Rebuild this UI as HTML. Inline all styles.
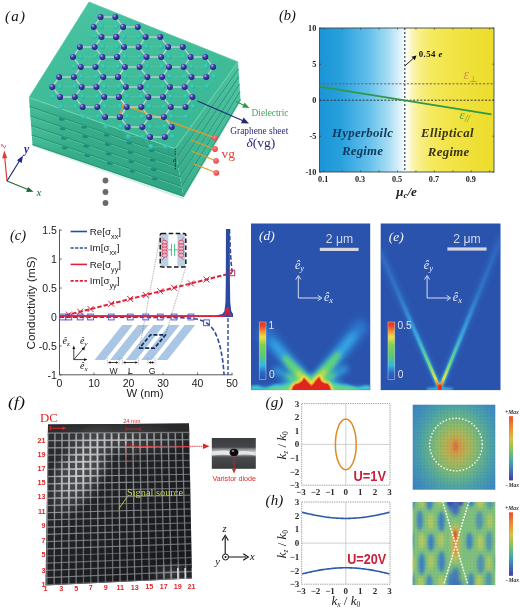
<!DOCTYPE html>
<html><head><meta charset="utf-8"><title>Figure</title>
<style>html,body{margin:0;padding:0;background:#fff;}svg{display:block;}</style></head>
<body><svg width="520" height="610" viewBox="0 0 520 610">
<defs>
<radialGradient id="atB" cx="0.35" cy="0.3" r="0.75"><stop offset="0" stop-color="#b4b4ee"/><stop offset="0.4" stop-color="#4040ae"/><stop offset="1" stop-color="#1c1c72"/></radialGradient>
<radialGradient id="atT" cx="0.4" cy="0.35" r="0.7"><stop offset="0" stop-color="#4cd2be"/><stop offset="1" stop-color="#1fb09c"/></radialGradient>
<radialGradient id="atR" cx="0.4" cy="0.35" r="0.7"><stop offset="0" stop-color="#ff8a80"/><stop offset="1" stop-color="#e23a3a"/></radialGradient>
<linearGradient id="topF" x1="0" y1="0" x2="0.3" y2="1"><stop offset="0" stop-color="#4ac4a2"/><stop offset="1" stop-color="#3ab794"/></linearGradient>
<linearGradient id="lfF" x1="0" y1="0" x2="0" y2="1"><stop offset="0" stop-color="#49be9a"/><stop offset="0.3" stop-color="#37ad8a"/><stop offset="1" stop-color="#2fa383"/></linearGradient>
<linearGradient id="rtF" x1="0" y1="0" x2="0" y2="1"><stop offset="0" stop-color="#4cc2a0"/><stop offset="0.7" stop-color="#41b693"/><stop offset="1" stop-color="#36aa8a"/></linearGradient>

<linearGradient id="bgB" x1="0" y1="0" x2="1" y2="0">
<stop offset="0" stop-color="#1a94d6"/><stop offset="0.12" stop-color="#28a0dc"/><stop offset="0.28" stop-color="#62bfea"/><stop offset="0.40" stop-color="#aadef4"/><stop offset="0.47" stop-color="#e6f5fb"/><stop offset="0.50" stop-color="#fdfdf6"/>
<stop offset="0.53" stop-color="#fbf6b8"/><stop offset="0.57" stop-color="#f8ef8a"/><stop offset="0.64" stop-color="#f5e960"/><stop offset="0.75" stop-color="#f2e446"/><stop offset="1" stop-color="#ecdc2a"/></linearGradient>

<filter id="bl1" x="-20%" y="-20%" width="140%" height="140%"><feGaussianBlur stdDeviation="1"/></filter>
<filter id="bl2" x="-20%" y="-20%" width="140%" height="140%"><feGaussianBlur stdDeviation="2"/></filter>
<filter id="bl3" x="-20%" y="-20%" width="140%" height="140%"><feGaussianBlur stdDeviation="3.2"/></filter>
<filter id="bl5" x="-30%" y="-30%" width="160%" height="160%"><feGaussianBlur stdDeviation="5"/></filter>
<filter id="bl06" x="-20%" y="-20%" width="140%" height="140%"><feGaussianBlur stdDeviation="0.6"/></filter>
<clipPath id="clD"><rect x="251" y="223.5" width="119.2" height="166.6"/></clipPath>
<clipPath id="clE"><rect x="380.7" y="223.5" width="119.8" height="166.6"/></clipPath>
<linearGradient id="jet" x1="0" y1="0" x2="0" y2="1"><stop offset="0" stop-color="#e8301e"/><stop offset="0.08" stop-color="#ee4a22"/><stop offset="0.17" stop-color="#f09a30"/><stop offset="0.26" stop-color="#f0e040"/><stop offset="0.4" stop-color="#80d050"/><stop offset="0.6" stop-color="#58c878"/><stop offset="0.76" stop-color="#30b8e0"/><stop offset="0.88" stop-color="#2a68c8"/><stop offset="1" stop-color="#2a53ad"/></linearGradient>
<linearGradient id="vA" gradientUnits="userSpaceOnUse" x1="0" y1="240" x2="0" y2="390"><stop offset="0" stop-color="#3c96e0" stop-opacity="0.08"/><stop offset="0.35" stop-color="#38a8e8" stop-opacity="0.32"/><stop offset="0.65" stop-color="#3cc4ea" stop-opacity="0.85"/><stop offset="1" stop-color="#50e0e0" stop-opacity="1"/></linearGradient>
<linearGradient id="vB" gradientUnits="userSpaceOnUse" x1="0" y1="338" x2="0" y2="390"><stop offset="0" stop-color="#60d880" stop-opacity="0"/><stop offset="0.5" stop-color="#6edc70" stop-opacity="0.9"/><stop offset="0.8" stop-color="#e8e040" stop-opacity="1"/><stop offset="0.95" stop-color="#f06020" stop-opacity="1"/></linearGradient>

<linearGradient id="pcbG" x1="0" y1="0" x2="1" y2="1"><stop offset="0" stop-color="#2a2c2f"/><stop offset="0.4" stop-color="#222427"/><stop offset="1" stop-color="#1b1c1f"/></linearGradient>
<radialGradient id="glare" cx="0.5" cy="0.5" r="0.5"><stop offset="0" stop-color="#fff" stop-opacity="0.30"/><stop offset="1" stop-color="#fff" stop-opacity="0"/></radialGradient>
<linearGradient id="diodeBg" x1="0" y1="0" x2="0" y2="1"><stop offset="0" stop-color="#3a3c40"/><stop offset="0.30" stop-color="#44464a"/><stop offset="0.36" stop-color="#8a8c90"/><stop offset="0.46" stop-color="#c8cacc"/><stop offset="0.56" stop-color="#8c8e92"/><stop offset="0.62" stop-color="#4a4b4e"/><stop offset="1" stop-color="#3a3a3c"/></linearGradient>
<filter id="fblur"><feGaussianBlur stdDeviation="0.45"/></filter>
<linearGradient id="fshade" x1="0" y1="0" x2="1" y2="1"><stop offset="0" stop-color="#0c0d10" stop-opacity="0"/><stop offset="0.35" stop-color="#0c0d10" stop-opacity="0.05"/><stop offset="0.7" stop-color="#0c0d10" stop-opacity="0.22"/><stop offset="1" stop-color="#0c0d10" stop-opacity="0.3"/></linearGradient>
<radialGradient id="glR1" gradientUnits="userSpaceOnUse" cx="80" cy="470" r="44" gradientTransform="rotate(30 80 470) translate(82 468) scale(0.62 1.25) translate(-82 -468)"><stop offset="0" stop-color="#fff" stop-opacity="1"/><stop offset="0.45" stop-color="#fff" stop-opacity="0.75"/><stop offset="1" stop-color="#fff" stop-opacity="0"/></radialGradient>
<radialGradient id="glR2" gradientUnits="userSpaceOnUse" cx="120" cy="440" r="80" gradientTransform="translate(120 440) scale(1 0.22) translate(-120 -440)"><stop offset="0" stop-color="#fff" stop-opacity="0.7"/><stop offset="1" stop-color="#fff" stop-opacity="0"/></radialGradient>
<radialGradient id="glR3" gradientUnits="userSpaceOnUse" cx="172" cy="574" r="26" gradientTransform="translate(172 574) scale(1 0.5) translate(-172 -574)"><stop offset="0" stop-color="#fff" stop-opacity="0.8"/><stop offset="1" stop-color="#fff" stop-opacity="0"/></radialGradient>
<mask id="glM" maskUnits="userSpaceOnUse" x="40" y="415" width="160" height="180"><rect x="40" y="415" width="160" height="180" fill="#000"/><rect x="40" y="415" width="160" height="180" fill="url(#glR1)"/><rect x="40" y="415" width="160" height="180" fill="url(#glR2)"/><rect x="40" y="415" width="160" height="180" fill="url(#glR3)"/></mask>
<clipPath id="clF"><polygon points="48,424.5 189,423.5 192,578.5 45.5,585.5"/></clipPath>

<linearGradient id="par" x1="0" y1="0" x2="0" y2="1"><stop offset="0" stop-color="#e8502a"/><stop offset="0.18" stop-color="#ee8a3a"/><stop offset="0.36" stop-color="#d8c040"/><stop offset="0.52" stop-color="#8cc060"/><stop offset="0.68" stop-color="#45b0a0"/><stop offset="0.84" stop-color="#3a78c0"/><stop offset="1" stop-color="#4a3a98"/></linearGradient>
<radialGradient id="gIm" gradientUnits="userSpaceOnUse" cx="456" cy="447" r="64" gradientTransform="translate(456 447) scale(0.92 1.08) translate(-456 -447)"><stop offset="0" stop-color="#dc8a3c"/><stop offset="0.08" stop-color="#d29c44"/><stop offset="0.2" stop-color="#b4b452"/><stop offset="0.33" stop-color="#8cba6a"/><stop offset="0.47" stop-color="#64b08c"/><stop offset="0.62" stop-color="#4aa0a8"/><stop offset="0.8" stop-color="#3f8cbc"/><stop offset="1" stop-color="#3a7cc4"/></radialGradient>
<clipPath id="clG"><rect x="412.7" y="404.7" width="82.6" height="85"/></clipPath>
<clipPath id="clH"><rect x="412.7" y="502" width="82.6" height="83"/></clipPath>
<filter id="gb2" x="-30%" y="-30%" width="160%" height="160%"><feGaussianBlur stdDeviation="2.2"/></filter>
<filter id="gb3" x="-30%" y="-30%" width="160%" height="160%"><feGaussianBlur stdDeviation="3.2"/></filter>
<filter id="gb16" x="-30%" y="-30%" width="160%" height="160%"><feGaussianBlur stdDeviation="1.6"/></filter>
<filter id="gb1" x="-30%" y="-30%" width="160%" height="160%"><feGaussianBlur stdDeviation="1.1"/></filter>
<pattern id="dots" width="3.3" height="3.3" patternUnits="userSpaceOnUse" x="412.7" y="404.7"><circle cx="1.6" cy="1.6" r="0.75" fill="#2a7a9a" opacity="0.28"/><circle cx="0" cy="0" r="0.6" fill="#e8f0c0" opacity="0.18"/></pattern>

</defs>
<rect width="520" height="610" fill="#fff"/>
<g id="pa">
<polygon points="31.5,146 183.5,199.8 241.5,101 240.5,100 183.5,196.8 32.5,145" fill="#bfe6da" opacity="0.6"/>
<polygon points="31.8,135.5 181.8,187.2 183.5,196.8 32.5,145" fill="url(#lfF)"/>
<polygon points="181.8,187.2 240,92.4 240.5,100 183.5,196.8" fill="url(#rtF)"/>
<polyline points="31.8,135.5 181.8,187.2 240,92.4" fill="none" stroke="#6fd4b4" stroke-width="1" stroke-linejoin="round"/>
<polyline points="32.5,144.4 183.5,196.2 240.5,99.4" fill="none" stroke="#238e72" stroke-width="1.1" stroke-linejoin="round" opacity="0.75"/>
<ellipse cx="65" cy="147.54" rx="3" ry="1.8" fill="#15807c" opacity="0.8"/>
<ellipse cx="87.5" cy="155.3" rx="3" ry="1.8" fill="#15807c" opacity="0.8"/>
<ellipse cx="110" cy="163.05" rx="3" ry="1.8" fill="#15807c" opacity="0.8"/>
<ellipse cx="132.5" cy="170.81" rx="3" ry="1.8" fill="#15807c" opacity="0.8"/>
<ellipse cx="155" cy="178.56" rx="3" ry="1.8" fill="#15807c" opacity="0.8"/>
<polygon points="31.1,126 180.1,177.6 181.8,187.2 31.8,135.5" fill="url(#lfF)"/>
<polygon points="180.1,177.6 239.5,84.8 240,92.4 181.8,187.2" fill="url(#rtF)"/>
<polyline points="31.1,126 180.1,177.6 239.5,84.8" fill="none" stroke="#6fd4b4" stroke-width="1" stroke-linejoin="round"/>
<polyline points="31.8,134.9 181.8,186.6 240,91.8" fill="none" stroke="#238e72" stroke-width="1.1" stroke-linejoin="round" opacity="0.75"/>
<ellipse cx="64" cy="137.99" rx="3" ry="1.8" fill="#15807c" opacity="0.8"/>
<ellipse cx="86.5" cy="145.79" rx="3" ry="1.8" fill="#15807c" opacity="0.8"/>
<ellipse cx="109" cy="153.58" rx="3" ry="1.8" fill="#15807c" opacity="0.8"/>
<ellipse cx="131.5" cy="161.37" rx="3" ry="1.8" fill="#15807c" opacity="0.8"/>
<ellipse cx="154" cy="169.16" rx="3" ry="1.8" fill="#15807c" opacity="0.8"/>
<polygon points="30.4,116.5 178.4,168 180.1,177.6 31.1,126" fill="url(#lfF)"/>
<polygon points="178.4,168 239,77.2 239.5,84.8 180.1,177.6" fill="url(#rtF)"/>
<polyline points="30.4,116.5 178.4,168 239,77.2" fill="none" stroke="#6fd4b4" stroke-width="1" stroke-linejoin="round"/>
<polyline points="31.1,125.4 180.1,177 239.5,84.2" fill="none" stroke="#238e72" stroke-width="1.1" stroke-linejoin="round" opacity="0.75"/>
<ellipse cx="63" cy="128.44" rx="3" ry="1.8" fill="#15807c" opacity="0.8"/>
<ellipse cx="85.5" cy="136.27" rx="3" ry="1.8" fill="#15807c" opacity="0.8"/>
<ellipse cx="108" cy="144.1" rx="3" ry="1.8" fill="#15807c" opacity="0.8"/>
<ellipse cx="130.5" cy="151.93" rx="3" ry="1.8" fill="#15807c" opacity="0.8"/>
<ellipse cx="153" cy="159.76" rx="3" ry="1.8" fill="#15807c" opacity="0.8"/>
<polygon points="29.7,107 176.7,158.4 178.4,168 30.4,116.5" fill="url(#lfF)"/>
<polygon points="176.7,158.4 238.5,69.6 239,77.2 178.4,168" fill="url(#rtF)"/>
<polyline points="29.7,107 176.7,158.4 238.5,69.6" fill="none" stroke="#6fd4b4" stroke-width="1" stroke-linejoin="round"/>
<polyline points="30.4,115.9 178.4,167.4 239,76.6" fill="none" stroke="#238e72" stroke-width="1.1" stroke-linejoin="round" opacity="0.75"/>
<ellipse cx="62" cy="118.89" rx="3" ry="1.8" fill="#15807c" opacity="0.8"/>
<ellipse cx="84.5" cy="126.76" rx="3" ry="1.8" fill="#15807c" opacity="0.8"/>
<ellipse cx="107" cy="134.63" rx="3" ry="1.8" fill="#15807c" opacity="0.8"/>
<ellipse cx="129.5" cy="142.5" rx="3" ry="1.8" fill="#15807c" opacity="0.8"/>
<ellipse cx="152" cy="150.36" rx="3" ry="1.8" fill="#15807c" opacity="0.8"/>
<polygon points="89,2 238,62 175,148.8 29,97.5" fill="url(#topF)" stroke="#52c8a8" stroke-width="0.8" stroke-linejoin="round"/>
<polygon points="29,97.5 175,148.8 176.7,158.4 29.7,107" fill="url(#lfF)"/>
<polygon points="175,148.8 238,62 238.5,69.6 176.7,158.4" fill="url(#rtF)"/>
<polyline points="29,97.5 175,148.8 238,62" fill="none" stroke="#6fd4b4" stroke-width="1" stroke-linejoin="round"/>
<polyline points="29.7,106.4 176.7,157.8 238.5,69" fill="none" stroke="#238e72" stroke-width="1.1" stroke-linejoin="round" opacity="0.75"/>
<line x1="168.9" y1="56.6" x2="183.6" y2="56.6" stroke="#5cd0b4" stroke-width="0.9" opacity="0.4"/>
<line x1="73.8" y1="66.6" x2="81.6" y2="76.6" stroke="#5cd0b4" stroke-width="0.9" opacity="0.4"/>
<line x1="118.8" y1="86.6" x2="126.6" y2="96.6" stroke="#5cd0b4" stroke-width="0.9" opacity="0.4"/>
<line x1="96.3" y1="76.6" x2="104.1" y2="86.6" stroke="#5cd0b4" stroke-width="0.9" opacity="0.4"/>
<line x1="102.3" y1="46.6" x2="117" y2="46.6" stroke="#5cd0b4" stroke-width="0.9" opacity="0.4"/>
<line x1="185.4" y1="96.6" x2="192.3" y2="86.6" stroke="#5cd0b4" stroke-width="0.9" opacity="0.4"/>
<line x1="82.5" y1="96.6" x2="97.2" y2="96.6" stroke="#5cd0b4" stroke-width="0.9" opacity="0.4"/>
<line x1="120.6" y1="126.6" x2="127.5" y2="116.6" stroke="#5cd0b4" stroke-width="0.9" opacity="0.4"/>
<line x1="120.6" y1="126.6" x2="128.4" y2="136.6" stroke="#5cd0b4" stroke-width="0.9" opacity="0.4"/>
<line x1="139.5" y1="56.6" x2="146.4" y2="46.6" stroke="#5cd0b4" stroke-width="0.9" opacity="0.4"/>
<line x1="123.9" y1="36.6" x2="138.6" y2="36.6" stroke="#5cd0b4" stroke-width="0.9" opacity="0.4"/>
<line x1="165.6" y1="146.6" x2="172.5" y2="136.6" stroke="#5cd0b4" stroke-width="0.9" opacity="0.4"/>
<line x1="143.1" y1="136.6" x2="150.9" y2="146.6" stroke="#5cd0b4" stroke-width="0.9" opacity="0.4"/>
<line x1="101.4" y1="26.6" x2="116.1" y2="26.6" stroke="#5cd0b4" stroke-width="0.9" opacity="0.4"/>
<line x1="119.7" y1="106.6" x2="127.5" y2="116.6" stroke="#5cd0b4" stroke-width="0.9" opacity="0.4"/>
<line x1="83.4" y1="116.6" x2="98.1" y2="116.6" stroke="#5cd0b4" stroke-width="0.9" opacity="0.4"/>
<line x1="74.7" y1="86.6" x2="81.6" y2="76.6" stroke="#5cd0b4" stroke-width="0.9" opacity="0.4"/>
<line x1="105.9" y1="126.6" x2="120.6" y2="126.6" stroke="#5cd0b4" stroke-width="0.9" opacity="0.4"/>
<line x1="169.8" y1="76.6" x2="184.5" y2="76.6" stroke="#5cd0b4" stroke-width="0.9" opacity="0.4"/>
<line x1="74.7" y1="86.6" x2="82.5" y2="96.6" stroke="#5cd0b4" stroke-width="0.9" opacity="0.4"/>
<line x1="117" y1="46.6" x2="123.9" y2="36.6" stroke="#5cd0b4" stroke-width="0.9" opacity="0.4"/>
<line x1="142.2" y1="116.6" x2="149.1" y2="106.6" stroke="#5cd0b4" stroke-width="0.9" opacity="0.4"/>
<line x1="207" y1="86.6" x2="213.9" y2="76.6" stroke="#5cd0b4" stroke-width="0.9" opacity="0.4"/>
<line x1="142.2" y1="116.6" x2="150" y2="126.6" stroke="#5cd0b4" stroke-width="0.9" opacity="0.4"/>
<line x1="119.7" y1="106.6" x2="127.5" y2="116.6" stroke="#5cd0b4" stroke-width="0.9" opacity="0.4"/>
<line x1="192.3" y1="86.6" x2="207" y2="86.6" stroke="#5cd0b4" stroke-width="0.9" opacity="0.4"/>
<line x1="146.4" y1="46.6" x2="161.1" y2="46.6" stroke="#5cd0b4" stroke-width="0.9" opacity="0.4"/>
<line x1="73.8" y1="66.6" x2="80.7" y2="56.6" stroke="#5cd0b4" stroke-width="0.9" opacity="0.4"/>
<line x1="116.1" y1="26.6" x2="123.9" y2="36.6" stroke="#5cd0b4" stroke-width="0.9" opacity="0.4"/>
<line x1="183.6" y1="56.6" x2="191.4" y2="66.6" stroke="#5cd0b4" stroke-width="0.9" opacity="0.4"/>
<line x1="120.6" y1="126.6" x2="127.5" y2="116.6" stroke="#5cd0b4" stroke-width="0.9" opacity="0.4"/>
<line x1="53.1" y1="96.6" x2="60.9" y2="106.6" stroke="#5cd0b4" stroke-width="0.9" opacity="0.4"/>
<line x1="206.1" y1="66.6" x2="213.9" y2="76.6" stroke="#5cd0b4" stroke-width="0.9" opacity="0.4"/>
<line x1="139.5" y1="56.6" x2="147.3" y2="66.6" stroke="#5cd0b4" stroke-width="0.9" opacity="0.4"/>
<line x1="96.3" y1="76.6" x2="103.2" y2="66.6" stroke="#5cd0b4" stroke-width="0.9" opacity="0.4"/>
<line x1="125.7" y1="76.6" x2="140.4" y2="76.6" stroke="#5cd0b4" stroke-width="0.9" opacity="0.4"/>
<line x1="161.1" y1="46.6" x2="168.9" y2="56.6" stroke="#5cd0b4" stroke-width="0.9" opacity="0.4"/>
<line x1="97.2" y1="96.6" x2="104.1" y2="86.6" stroke="#5cd0b4" stroke-width="0.9" opacity="0.4"/>
<line x1="126.6" y1="96.6" x2="141.3" y2="96.6" stroke="#5cd0b4" stroke-width="0.9" opacity="0.4"/>
<line x1="117" y1="46.6" x2="124.8" y2="56.6" stroke="#5cd0b4" stroke-width="0.9" opacity="0.4"/>
<line x1="94.5" y1="36.6" x2="102.3" y2="46.6" stroke="#5cd0b4" stroke-width="0.9" opacity="0.4"/>
<line x1="97.2" y1="96.6" x2="105" y2="106.6" stroke="#5cd0b4" stroke-width="0.9" opacity="0.4"/>
<line x1="143.1" y1="136.6" x2="150" y2="126.6" stroke="#5cd0b4" stroke-width="0.9" opacity="0.4"/>
<line x1="103.2" y1="66.6" x2="117.9" y2="66.6" stroke="#5cd0b4" stroke-width="0.9" opacity="0.4"/>
<line x1="170.7" y1="96.6" x2="185.4" y2="96.6" stroke="#5cd0b4" stroke-width="0.9" opacity="0.4"/>
<line x1="119.7" y1="106.6" x2="126.6" y2="96.6" stroke="#5cd0b4" stroke-width="0.9" opacity="0.4"/>
<line x1="149.1" y1="106.6" x2="163.8" y2="106.6" stroke="#5cd0b4" stroke-width="0.9" opacity="0.4"/>
<line x1="105" y1="106.6" x2="119.7" y2="106.6" stroke="#5cd0b4" stroke-width="0.9" opacity="0.4"/>
<line x1="117" y1="46.6" x2="124.8" y2="56.6" stroke="#5cd0b4" stroke-width="0.9" opacity="0.4"/>
<line x1="95.4" y1="56.6" x2="102.3" y2="46.6" stroke="#5cd0b4" stroke-width="0.9" opacity="0.4"/>
<line x1="186.3" y1="116.6" x2="193.2" y2="106.6" stroke="#5cd0b4" stroke-width="0.9" opacity="0.4"/>
<line x1="124.8" y1="56.6" x2="139.5" y2="56.6" stroke="#5cd0b4" stroke-width="0.9" opacity="0.4"/>
<line x1="117.9" y1="66.6" x2="125.7" y2="76.6" stroke="#5cd0b4" stroke-width="0.9" opacity="0.4"/>
<line x1="119.7" y1="106.6" x2="126.6" y2="96.6" stroke="#5cd0b4" stroke-width="0.9" opacity="0.4"/>
<line x1="60" y1="86.6" x2="74.7" y2="86.6" stroke="#5cd0b4" stroke-width="0.9" opacity="0.4"/>
<line x1="162.9" y1="86.6" x2="170.7" y2="96.6" stroke="#5cd0b4" stroke-width="0.9" opacity="0.4"/>
<line x1="80.7" y1="56.6" x2="95.4" y2="56.6" stroke="#5cd0b4" stroke-width="0.9" opacity="0.4"/>
<line x1="53.1" y1="96.6" x2="60" y2="86.6" stroke="#5cd0b4" stroke-width="0.9" opacity="0.4"/>
<line x1="164.7" y1="126.6" x2="171.6" y2="116.6" stroke="#5cd0b4" stroke-width="0.9" opacity="0.4"/>
<line x1="98.1" y1="116.6" x2="105" y2="106.6" stroke="#5cd0b4" stroke-width="0.9" opacity="0.4"/>
<line x1="150.9" y1="146.6" x2="165.6" y2="146.6" stroke="#5cd0b4" stroke-width="0.9" opacity="0.4"/>
<line x1="75.6" y1="106.6" x2="82.5" y2="96.6" stroke="#5cd0b4" stroke-width="0.9" opacity="0.4"/>
<line x1="117.9" y1="66.6" x2="125.7" y2="76.6" stroke="#5cd0b4" stroke-width="0.9" opacity="0.4"/>
<line x1="163.8" y1="106.6" x2="171.6" y2="116.6" stroke="#5cd0b4" stroke-width="0.9" opacity="0.4"/>
<line x1="118.8" y1="86.6" x2="125.7" y2="76.6" stroke="#5cd0b4" stroke-width="0.9" opacity="0.4"/>
<line x1="94.5" y1="36.6" x2="101.4" y2="26.6" stroke="#5cd0b4" stroke-width="0.9" opacity="0.4"/>
<line x1="150" y1="126.6" x2="164.7" y2="126.6" stroke="#5cd0b4" stroke-width="0.9" opacity="0.4"/>
<line x1="162" y1="66.6" x2="169.8" y2="76.6" stroke="#5cd0b4" stroke-width="0.9" opacity="0.4"/>
<line x1="118.8" y1="86.6" x2="125.7" y2="76.6" stroke="#5cd0b4" stroke-width="0.9" opacity="0.4"/>
<line x1="148.2" y1="86.6" x2="162.9" y2="86.6" stroke="#5cd0b4" stroke-width="0.9" opacity="0.4"/>
<line x1="127.5" y1="116.6" x2="142.2" y2="116.6" stroke="#5cd0b4" stroke-width="0.9" opacity="0.4"/>
<line x1="98.1" y1="116.6" x2="105.9" y2="126.6" stroke="#5cd0b4" stroke-width="0.9" opacity="0.4"/>
<line x1="141.3" y1="96.6" x2="148.2" y2="86.6" stroke="#5cd0b4" stroke-width="0.9" opacity="0.4"/>
<line x1="104.1" y1="86.6" x2="118.8" y2="86.6" stroke="#5cd0b4" stroke-width="0.9" opacity="0.4"/>
<line x1="75.6" y1="106.6" x2="83.4" y2="116.6" stroke="#5cd0b4" stroke-width="0.9" opacity="0.4"/>
<line x1="117.9" y1="66.6" x2="124.8" y2="56.6" stroke="#5cd0b4" stroke-width="0.9" opacity="0.4"/>
<line x1="147.3" y1="66.6" x2="162" y2="66.6" stroke="#5cd0b4" stroke-width="0.9" opacity="0.4"/>
<line x1="184.5" y1="76.6" x2="191.4" y2="66.6" stroke="#5cd0b4" stroke-width="0.9" opacity="0.4"/>
<line x1="140.4" y1="76.6" x2="147.3" y2="66.6" stroke="#5cd0b4" stroke-width="0.9" opacity="0.4"/>
<line x1="81.6" y1="76.6" x2="96.3" y2="76.6" stroke="#5cd0b4" stroke-width="0.9" opacity="0.4"/>
<line x1="140.4" y1="76.6" x2="148.2" y2="86.6" stroke="#5cd0b4" stroke-width="0.9" opacity="0.4"/>
<line x1="171.6" y1="116.6" x2="186.3" y2="116.6" stroke="#5cd0b4" stroke-width="0.9" opacity="0.4"/>
<line x1="117.9" y1="66.6" x2="124.8" y2="56.6" stroke="#5cd0b4" stroke-width="0.9" opacity="0.4"/>
<line x1="162.9" y1="86.6" x2="169.8" y2="76.6" stroke="#5cd0b4" stroke-width="0.9" opacity="0.4"/>
<line x1="163.8" y1="106.6" x2="170.7" y2="96.6" stroke="#5cd0b4" stroke-width="0.9" opacity="0.4"/>
<line x1="185.4" y1="96.6" x2="193.2" y2="106.6" stroke="#5cd0b4" stroke-width="0.9" opacity="0.4"/>
<line x1="95.4" y1="56.6" x2="103.2" y2="66.6" stroke="#5cd0b4" stroke-width="0.9" opacity="0.4"/>
<line x1="118.8" y1="86.6" x2="126.6" y2="96.6" stroke="#5cd0b4" stroke-width="0.9" opacity="0.4"/>
<line x1="141.3" y1="96.6" x2="149.1" y2="106.6" stroke="#5cd0b4" stroke-width="0.9" opacity="0.4"/>
<line x1="191.4" y1="66.6" x2="206.1" y2="66.6" stroke="#5cd0b4" stroke-width="0.9" opacity="0.4"/>
<line x1="162" y1="66.6" x2="168.9" y2="56.6" stroke="#5cd0b4" stroke-width="0.9" opacity="0.4"/>
<line x1="184.5" y1="76.6" x2="192.3" y2="86.6" stroke="#5cd0b4" stroke-width="0.9" opacity="0.4"/>
<line x1="128.4" y1="136.6" x2="143.1" y2="136.6" stroke="#5cd0b4" stroke-width="0.9" opacity="0.4"/>
<line x1="138.6" y1="36.6" x2="146.4" y2="46.6" stroke="#5cd0b4" stroke-width="0.9" opacity="0.4"/>
<line x1="164.7" y1="126.6" x2="172.5" y2="136.6" stroke="#5cd0b4" stroke-width="0.9" opacity="0.4"/>
<line x1="117" y1="46.6" x2="123.9" y2="36.6" stroke="#5cd0b4" stroke-width="0.9" opacity="0.4"/>
<line x1="60.9" y1="106.6" x2="75.6" y2="106.6" stroke="#5cd0b4" stroke-width="0.9" opacity="0.4"/>
<circle cx="101.4" cy="26.6" r="2.6" fill="url(#atT)" opacity="0.9"/>
<circle cx="116.1" cy="26.6" r="2.6" fill="url(#atT)" opacity="0.9"/>
<circle cx="123.9" cy="36.6" r="2.6" fill="url(#atT)" opacity="0.9"/>
<circle cx="94.5" cy="36.6" r="2.6" fill="url(#atT)" opacity="0.9"/>
<circle cx="138.6" cy="36.6" r="2.6" fill="url(#atT)" opacity="0.9"/>
<circle cx="117" cy="46.6" r="2.6" fill="url(#atT)" opacity="0.9"/>
<circle cx="102.3" cy="46.6" r="2.6" fill="url(#atT)" opacity="0.9"/>
<circle cx="146.4" cy="46.6" r="2.6" fill="url(#atT)" opacity="0.9"/>
<circle cx="117" cy="46.6" r="2.6" fill="url(#atT)" opacity="0.9"/>
<circle cx="161.1" cy="46.6" r="2.6" fill="url(#atT)" opacity="0.9"/>
<circle cx="139.5" cy="56.6" r="2.6" fill="url(#atT)" opacity="0.9"/>
<circle cx="124.8" cy="56.6" r="2.6" fill="url(#atT)" opacity="0.9"/>
<circle cx="168.9" cy="56.6" r="2.6" fill="url(#atT)" opacity="0.9"/>
<circle cx="183.6" cy="56.6" r="2.6" fill="url(#atT)" opacity="0.9"/>
<circle cx="95.4" cy="56.6" r="2.6" fill="url(#atT)" opacity="0.9"/>
<circle cx="80.7" cy="56.6" r="2.6" fill="url(#atT)" opacity="0.9"/>
<circle cx="162" cy="66.6" r="2.6" fill="url(#atT)" opacity="0.9"/>
<circle cx="147.3" cy="66.6" r="2.6" fill="url(#atT)" opacity="0.9"/>
<circle cx="191.4" cy="66.6" r="2.6" fill="url(#atT)" opacity="0.9"/>
<circle cx="206.1" cy="66.6" r="2.6" fill="url(#atT)" opacity="0.9"/>
<circle cx="117.9" cy="66.6" r="2.6" fill="url(#atT)" opacity="0.9"/>
<circle cx="103.2" cy="66.6" r="2.6" fill="url(#atT)" opacity="0.9"/>
<circle cx="117.9" cy="66.6" r="2.6" fill="url(#atT)" opacity="0.9"/>
<circle cx="73.8" cy="66.6" r="2.6" fill="url(#atT)" opacity="0.9"/>
<circle cx="184.5" cy="76.6" r="2.6" fill="url(#atT)" opacity="0.9"/>
<circle cx="169.8" cy="76.6" r="2.6" fill="url(#atT)" opacity="0.9"/>
<circle cx="213.9" cy="76.6" r="2.6" fill="url(#atT)" opacity="0.9"/>
<circle cx="140.4" cy="76.6" r="2.6" fill="url(#atT)" opacity="0.9"/>
<circle cx="125.7" cy="76.6" r="2.6" fill="url(#atT)" opacity="0.9"/>
<circle cx="96.3" cy="76.6" r="2.6" fill="url(#atT)" opacity="0.9"/>
<circle cx="81.6" cy="76.6" r="2.6" fill="url(#atT)" opacity="0.9"/>
<circle cx="207" cy="86.6" r="2.6" fill="url(#atT)" opacity="0.9"/>
<circle cx="192.3" cy="86.6" r="2.6" fill="url(#atT)" opacity="0.9"/>
<circle cx="162.9" cy="86.6" r="2.6" fill="url(#atT)" opacity="0.9"/>
<circle cx="148.2" cy="86.6" r="2.6" fill="url(#atT)" opacity="0.9"/>
<circle cx="118.8" cy="86.6" r="2.6" fill="url(#atT)" opacity="0.9"/>
<circle cx="104.1" cy="86.6" r="2.6" fill="url(#atT)" opacity="0.9"/>
<circle cx="118.8" cy="86.6" r="2.6" fill="url(#atT)" opacity="0.9"/>
<circle cx="74.7" cy="86.6" r="2.6" fill="url(#atT)" opacity="0.9"/>
<circle cx="60" cy="86.6" r="2.6" fill="url(#atT)" opacity="0.9"/>
<circle cx="185.4" cy="96.6" r="2.6" fill="url(#atT)" opacity="0.9"/>
<circle cx="170.7" cy="96.6" r="2.6" fill="url(#atT)" opacity="0.9"/>
<circle cx="141.3" cy="96.6" r="2.6" fill="url(#atT)" opacity="0.9"/>
<circle cx="126.6" cy="96.6" r="2.6" fill="url(#atT)" opacity="0.9"/>
<circle cx="97.2" cy="96.6" r="2.6" fill="url(#atT)" opacity="0.9"/>
<circle cx="82.5" cy="96.6" r="2.6" fill="url(#atT)" opacity="0.9"/>
<circle cx="53.1" cy="96.6" r="2.6" fill="url(#atT)" opacity="0.9"/>
<circle cx="163.8" cy="106.6" r="2.6" fill="url(#atT)" opacity="0.9"/>
<circle cx="149.1" cy="106.6" r="2.6" fill="url(#atT)" opacity="0.9"/>
<circle cx="193.2" cy="106.6" r="2.6" fill="url(#atT)" opacity="0.9"/>
<circle cx="119.7" cy="106.6" r="2.6" fill="url(#atT)" opacity="0.9"/>
<circle cx="105" cy="106.6" r="2.6" fill="url(#atT)" opacity="0.9"/>
<circle cx="119.7" cy="106.6" r="2.6" fill="url(#atT)" opacity="0.9"/>
<circle cx="75.6" cy="106.6" r="2.6" fill="url(#atT)" opacity="0.9"/>
<circle cx="60.9" cy="106.6" r="2.6" fill="url(#atT)" opacity="0.9"/>
<circle cx="186.3" cy="116.6" r="2.6" fill="url(#atT)" opacity="0.9"/>
<circle cx="171.6" cy="116.6" r="2.6" fill="url(#atT)" opacity="0.9"/>
<circle cx="142.2" cy="116.6" r="2.6" fill="url(#atT)" opacity="0.9"/>
<circle cx="127.5" cy="116.6" r="2.6" fill="url(#atT)" opacity="0.9"/>
<circle cx="98.1" cy="116.6" r="2.6" fill="url(#atT)" opacity="0.9"/>
<circle cx="83.4" cy="116.6" r="2.6" fill="url(#atT)" opacity="0.9"/>
<circle cx="164.7" cy="126.6" r="2.6" fill="url(#atT)" opacity="0.9"/>
<circle cx="150" cy="126.6" r="2.6" fill="url(#atT)" opacity="0.9"/>
<circle cx="120.6" cy="126.6" r="2.6" fill="url(#atT)" opacity="0.9"/>
<circle cx="105.9" cy="126.6" r="2.6" fill="url(#atT)" opacity="0.9"/>
<circle cx="120.6" cy="126.6" r="2.6" fill="url(#atT)" opacity="0.9"/>
<circle cx="143.1" cy="136.6" r="2.6" fill="url(#atT)" opacity="0.9"/>
<circle cx="128.4" cy="136.6" r="2.6" fill="url(#atT)" opacity="0.9"/>
<circle cx="172.5" cy="136.6" r="2.6" fill="url(#atT)" opacity="0.9"/>
<circle cx="165.6" cy="146.6" r="2.6" fill="url(#atT)" opacity="0.9"/>
<circle cx="150.9" cy="146.6" r="2.6" fill="url(#atT)" opacity="0.9"/>
<path d="M120 114 L123 104.6 L214.5 137.6" fill="none" stroke="#e89a2a" stroke-width="1.2"/>
<line x1="191" y1="140" x2="214" y2="149" stroke="#e89a2a" stroke-width="1.2"/>
<line x1="191.5" y1="151" x2="215" y2="160.5" stroke="#e89a2a" stroke-width="1.2"/>
<line x1="194" y1="164" x2="215.5" y2="172.5" stroke="#e89a2a" stroke-width="1.2"/>
<line x1="168.1" y1="47" x2="182.8" y2="47" stroke="#d0d4dc" stroke-width="1.2"/>
<line x1="73" y1="57" x2="80.8" y2="67" stroke="#d0d4dc" stroke-width="1.2"/>
<line x1="118" y1="77" x2="125.8" y2="87" stroke="#d0d4dc" stroke-width="1.2"/>
<line x1="95.5" y1="67" x2="103.3" y2="77" stroke="#d0d4dc" stroke-width="1.2"/>
<line x1="101.5" y1="37" x2="116.2" y2="37" stroke="#d0d4dc" stroke-width="1.2"/>
<line x1="184.6" y1="87" x2="191.5" y2="77" stroke="#d0d4dc" stroke-width="1.2"/>
<line x1="81.7" y1="87" x2="96.4" y2="87" stroke="#d0d4dc" stroke-width="1.2"/>
<line x1="119.8" y1="117" x2="126.7" y2="107" stroke="#d0d4dc" stroke-width="1.2"/>
<line x1="119.8" y1="117" x2="127.6" y2="127" stroke="#d0d4dc" stroke-width="1.2"/>
<line x1="138.7" y1="47" x2="145.6" y2="37" stroke="#d0d4dc" stroke-width="1.2"/>
<line x1="123.1" y1="27" x2="137.8" y2="27" stroke="#d0d4dc" stroke-width="1.2"/>
<line x1="164.8" y1="137" x2="171.7" y2="127" stroke="#d0d4dc" stroke-width="1.2"/>
<line x1="142.3" y1="127" x2="150.1" y2="137" stroke="#d0d4dc" stroke-width="1.2"/>
<line x1="100.6" y1="17" x2="115.3" y2="17" stroke="#d0d4dc" stroke-width="1.2"/>
<line x1="118.9" y1="97" x2="126.7" y2="107" stroke="#d0d4dc" stroke-width="1.2"/>
<line x1="82.6" y1="107" x2="97.3" y2="107" stroke="#d0d4dc" stroke-width="1.2"/>
<line x1="73.9" y1="77" x2="80.8" y2="67" stroke="#d0d4dc" stroke-width="1.2"/>
<line x1="105.1" y1="117" x2="119.8" y2="117" stroke="#d0d4dc" stroke-width="1.2"/>
<line x1="169" y1="67" x2="183.7" y2="67" stroke="#d0d4dc" stroke-width="1.2"/>
<line x1="73.9" y1="77" x2="81.7" y2="87" stroke="#d0d4dc" stroke-width="1.2"/>
<line x1="116.2" y1="37" x2="123.1" y2="27" stroke="#d0d4dc" stroke-width="1.2"/>
<line x1="141.4" y1="107" x2="148.3" y2="97" stroke="#d0d4dc" stroke-width="1.2"/>
<line x1="206.2" y1="77" x2="213.1" y2="67" stroke="#d0d4dc" stroke-width="1.2"/>
<line x1="141.4" y1="107" x2="149.2" y2="117" stroke="#d0d4dc" stroke-width="1.2"/>
<line x1="118.9" y1="97" x2="126.7" y2="107" stroke="#d0d4dc" stroke-width="1.2"/>
<line x1="191.5" y1="77" x2="206.2" y2="77" stroke="#d0d4dc" stroke-width="1.2"/>
<line x1="145.6" y1="37" x2="160.3" y2="37" stroke="#d0d4dc" stroke-width="1.2"/>
<line x1="73" y1="57" x2="79.9" y2="47" stroke="#d0d4dc" stroke-width="1.2"/>
<line x1="115.3" y1="17" x2="123.1" y2="27" stroke="#d0d4dc" stroke-width="1.2"/>
<line x1="182.8" y1="47" x2="190.6" y2="57" stroke="#d0d4dc" stroke-width="1.2"/>
<line x1="119.8" y1="117" x2="126.7" y2="107" stroke="#d0d4dc" stroke-width="1.2"/>
<line x1="52.3" y1="87" x2="60.1" y2="97" stroke="#d0d4dc" stroke-width="1.2"/>
<line x1="205.3" y1="57" x2="213.1" y2="67" stroke="#d0d4dc" stroke-width="1.2"/>
<line x1="138.7" y1="47" x2="146.5" y2="57" stroke="#d0d4dc" stroke-width="1.2"/>
<line x1="95.5" y1="67" x2="102.4" y2="57" stroke="#d0d4dc" stroke-width="1.2"/>
<line x1="124.9" y1="67" x2="139.6" y2="67" stroke="#d0d4dc" stroke-width="1.2"/>
<line x1="160.3" y1="37" x2="168.1" y2="47" stroke="#d0d4dc" stroke-width="1.2"/>
<line x1="96.4" y1="87" x2="103.3" y2="77" stroke="#d0d4dc" stroke-width="1.2"/>
<line x1="125.8" y1="87" x2="140.5" y2="87" stroke="#d0d4dc" stroke-width="1.2"/>
<line x1="116.2" y1="37" x2="124" y2="47" stroke="#d0d4dc" stroke-width="1.2"/>
<line x1="93.7" y1="27" x2="101.5" y2="37" stroke="#d0d4dc" stroke-width="1.2"/>
<line x1="96.4" y1="87" x2="104.2" y2="97" stroke="#d0d4dc" stroke-width="1.2"/>
<line x1="142.3" y1="127" x2="149.2" y2="117" stroke="#d0d4dc" stroke-width="1.2"/>
<line x1="102.4" y1="57" x2="117.1" y2="57" stroke="#d0d4dc" stroke-width="1.2"/>
<line x1="169.9" y1="87" x2="184.6" y2="87" stroke="#d0d4dc" stroke-width="1.2"/>
<line x1="118.9" y1="97" x2="125.8" y2="87" stroke="#d0d4dc" stroke-width="1.2"/>
<line x1="148.3" y1="97" x2="163" y2="97" stroke="#d0d4dc" stroke-width="1.2"/>
<line x1="104.2" y1="97" x2="118.9" y2="97" stroke="#d0d4dc" stroke-width="1.2"/>
<line x1="116.2" y1="37" x2="124" y2="47" stroke="#d0d4dc" stroke-width="1.2"/>
<line x1="94.6" y1="47" x2="101.5" y2="37" stroke="#d0d4dc" stroke-width="1.2"/>
<line x1="185.5" y1="107" x2="192.4" y2="97" stroke="#d0d4dc" stroke-width="1.2"/>
<line x1="124" y1="47" x2="138.7" y2="47" stroke="#d0d4dc" stroke-width="1.2"/>
<line x1="117.1" y1="57" x2="124.9" y2="67" stroke="#d0d4dc" stroke-width="1.2"/>
<line x1="118.9" y1="97" x2="125.8" y2="87" stroke="#d0d4dc" stroke-width="1.2"/>
<line x1="59.2" y1="77" x2="73.9" y2="77" stroke="#d0d4dc" stroke-width="1.2"/>
<line x1="162.1" y1="77" x2="169.9" y2="87" stroke="#d0d4dc" stroke-width="1.2"/>
<line x1="79.9" y1="47" x2="94.6" y2="47" stroke="#d0d4dc" stroke-width="1.2"/>
<line x1="52.3" y1="87" x2="59.2" y2="77" stroke="#d0d4dc" stroke-width="1.2"/>
<line x1="163.9" y1="117" x2="170.8" y2="107" stroke="#d0d4dc" stroke-width="1.2"/>
<line x1="97.3" y1="107" x2="104.2" y2="97" stroke="#d0d4dc" stroke-width="1.2"/>
<line x1="150.1" y1="137" x2="164.8" y2="137" stroke="#d0d4dc" stroke-width="1.2"/>
<line x1="74.8" y1="97" x2="81.7" y2="87" stroke="#d0d4dc" stroke-width="1.2"/>
<line x1="117.1" y1="57" x2="124.9" y2="67" stroke="#d0d4dc" stroke-width="1.2"/>
<line x1="163" y1="97" x2="170.8" y2="107" stroke="#d0d4dc" stroke-width="1.2"/>
<line x1="118" y1="77" x2="124.9" y2="67" stroke="#d0d4dc" stroke-width="1.2"/>
<line x1="93.7" y1="27" x2="100.6" y2="17" stroke="#d0d4dc" stroke-width="1.2"/>
<line x1="149.2" y1="117" x2="163.9" y2="117" stroke="#d0d4dc" stroke-width="1.2"/>
<line x1="161.2" y1="57" x2="169" y2="67" stroke="#d0d4dc" stroke-width="1.2"/>
<line x1="118" y1="77" x2="124.9" y2="67" stroke="#d0d4dc" stroke-width="1.2"/>
<line x1="147.4" y1="77" x2="162.1" y2="77" stroke="#d0d4dc" stroke-width="1.2"/>
<line x1="126.7" y1="107" x2="141.4" y2="107" stroke="#d0d4dc" stroke-width="1.2"/>
<line x1="97.3" y1="107" x2="105.1" y2="117" stroke="#d0d4dc" stroke-width="1.2"/>
<line x1="140.5" y1="87" x2="147.4" y2="77" stroke="#d0d4dc" stroke-width="1.2"/>
<line x1="103.3" y1="77" x2="118" y2="77" stroke="#d0d4dc" stroke-width="1.2"/>
<line x1="74.8" y1="97" x2="82.6" y2="107" stroke="#d0d4dc" stroke-width="1.2"/>
<line x1="117.1" y1="57" x2="124" y2="47" stroke="#d0d4dc" stroke-width="1.2"/>
<line x1="146.5" y1="57" x2="161.2" y2="57" stroke="#d0d4dc" stroke-width="1.2"/>
<line x1="183.7" y1="67" x2="190.6" y2="57" stroke="#d0d4dc" stroke-width="1.2"/>
<line x1="139.6" y1="67" x2="146.5" y2="57" stroke="#d0d4dc" stroke-width="1.2"/>
<line x1="80.8" y1="67" x2="95.5" y2="67" stroke="#d0d4dc" stroke-width="1.2"/>
<line x1="139.6" y1="67" x2="147.4" y2="77" stroke="#d0d4dc" stroke-width="1.2"/>
<line x1="170.8" y1="107" x2="185.5" y2="107" stroke="#d0d4dc" stroke-width="1.2"/>
<line x1="117.1" y1="57" x2="124" y2="47" stroke="#d0d4dc" stroke-width="1.2"/>
<line x1="162.1" y1="77" x2="169" y2="67" stroke="#d0d4dc" stroke-width="1.2"/>
<line x1="163" y1="97" x2="169.9" y2="87" stroke="#d0d4dc" stroke-width="1.2"/>
<line x1="184.6" y1="87" x2="192.4" y2="97" stroke="#d0d4dc" stroke-width="1.2"/>
<line x1="94.6" y1="47" x2="102.4" y2="57" stroke="#d0d4dc" stroke-width="1.2"/>
<line x1="118" y1="77" x2="125.8" y2="87" stroke="#d0d4dc" stroke-width="1.2"/>
<line x1="140.5" y1="87" x2="148.3" y2="97" stroke="#d0d4dc" stroke-width="1.2"/>
<line x1="190.6" y1="57" x2="205.3" y2="57" stroke="#d0d4dc" stroke-width="1.2"/>
<line x1="161.2" y1="57" x2="168.1" y2="47" stroke="#d0d4dc" stroke-width="1.2"/>
<line x1="183.7" y1="67" x2="191.5" y2="77" stroke="#d0d4dc" stroke-width="1.2"/>
<line x1="127.6" y1="127" x2="142.3" y2="127" stroke="#d0d4dc" stroke-width="1.2"/>
<line x1="137.8" y1="27" x2="145.6" y2="37" stroke="#d0d4dc" stroke-width="1.2"/>
<line x1="163.9" y1="117" x2="171.7" y2="127" stroke="#d0d4dc" stroke-width="1.2"/>
<line x1="116.2" y1="37" x2="123.1" y2="27" stroke="#d0d4dc" stroke-width="1.2"/>
<line x1="60.1" y1="97" x2="74.8" y2="97" stroke="#d0d4dc" stroke-width="1.2"/>
<circle cx="100.6" cy="17" r="3.0" fill="url(#atB)"/>
<circle cx="115.3" cy="17" r="3.0" fill="url(#atB)"/>
<circle cx="123.1" cy="27" r="3.0" fill="url(#atB)"/>
<circle cx="93.7" cy="27" r="3.0" fill="url(#atB)"/>
<circle cx="137.8" cy="27" r="3.0" fill="url(#atB)"/>
<circle cx="116.2" cy="37" r="3.0" fill="url(#atB)"/>
<circle cx="101.5" cy="37" r="3.0" fill="url(#atB)"/>
<circle cx="145.6" cy="37" r="3.0" fill="url(#atB)"/>
<circle cx="116.2" cy="37" r="3.0" fill="url(#atB)"/>
<circle cx="160.3" cy="37" r="3.0" fill="url(#atB)"/>
<circle cx="138.7" cy="47" r="3.0" fill="url(#atB)"/>
<circle cx="124" cy="47" r="3.0" fill="url(#atB)"/>
<circle cx="168.1" cy="47" r="3.0" fill="url(#atB)"/>
<circle cx="182.8" cy="47" r="3.0" fill="url(#atB)"/>
<circle cx="94.6" cy="47" r="3.0" fill="url(#atB)"/>
<circle cx="79.9" cy="47" r="3.0" fill="url(#atB)"/>
<circle cx="161.2" cy="57" r="3.0" fill="url(#atB)"/>
<circle cx="146.5" cy="57" r="3.0" fill="url(#atB)"/>
<circle cx="190.6" cy="57" r="3.0" fill="url(#atB)"/>
<circle cx="205.3" cy="57" r="3.0" fill="url(#atB)"/>
<circle cx="117.1" cy="57" r="3.0" fill="url(#atB)"/>
<circle cx="102.4" cy="57" r="3.0" fill="url(#atB)"/>
<circle cx="117.1" cy="57" r="3.0" fill="url(#atB)"/>
<circle cx="73" cy="57" r="3.0" fill="url(#atB)"/>
<circle cx="183.7" cy="67" r="3.0" fill="url(#atB)"/>
<circle cx="169" cy="67" r="3.0" fill="url(#atB)"/>
<circle cx="213.1" cy="67" r="3.0" fill="url(#atB)"/>
<circle cx="139.6" cy="67" r="3.0" fill="url(#atB)"/>
<circle cx="124.9" cy="67" r="3.0" fill="url(#atB)"/>
<circle cx="95.5" cy="67" r="3.0" fill="url(#atB)"/>
<circle cx="80.8" cy="67" r="3.0" fill="url(#atB)"/>
<circle cx="206.2" cy="77" r="3.0" fill="url(#atB)"/>
<circle cx="191.5" cy="77" r="3.0" fill="url(#atB)"/>
<circle cx="162.1" cy="77" r="3.0" fill="url(#atB)"/>
<circle cx="147.4" cy="77" r="3.0" fill="url(#atB)"/>
<circle cx="118" cy="77" r="3.0" fill="url(#atB)"/>
<circle cx="103.3" cy="77" r="3.0" fill="url(#atB)"/>
<circle cx="118" cy="77" r="3.0" fill="url(#atB)"/>
<circle cx="73.9" cy="77" r="3.0" fill="url(#atB)"/>
<circle cx="59.2" cy="77" r="3.0" fill="url(#atB)"/>
<circle cx="184.6" cy="87" r="3.0" fill="url(#atB)"/>
<circle cx="169.9" cy="87" r="3.0" fill="url(#atB)"/>
<circle cx="140.5" cy="87" r="3.0" fill="url(#atB)"/>
<circle cx="125.8" cy="87" r="3.0" fill="url(#atB)"/>
<circle cx="96.4" cy="87" r="3.0" fill="url(#atB)"/>
<circle cx="81.7" cy="87" r="3.0" fill="url(#atB)"/>
<circle cx="52.3" cy="87" r="3.0" fill="url(#atB)"/>
<circle cx="163" cy="97" r="3.0" fill="url(#atB)"/>
<circle cx="148.3" cy="97" r="3.0" fill="url(#atB)"/>
<circle cx="192.4" cy="97" r="3.0" fill="url(#atB)"/>
<circle cx="118.9" cy="97" r="3.0" fill="url(#atB)"/>
<circle cx="104.2" cy="97" r="3.0" fill="url(#atB)"/>
<circle cx="118.9" cy="97" r="3.0" fill="url(#atB)"/>
<circle cx="74.8" cy="97" r="3.0" fill="url(#atB)"/>
<circle cx="60.1" cy="97" r="3.0" fill="url(#atB)"/>
<circle cx="185.5" cy="107" r="3.0" fill="url(#atB)"/>
<circle cx="170.8" cy="107" r="3.0" fill="url(#atB)"/>
<circle cx="141.4" cy="107" r="3.0" fill="url(#atB)"/>
<circle cx="126.7" cy="107" r="3.0" fill="url(#atB)"/>
<circle cx="97.3" cy="107" r="3.0" fill="url(#atB)"/>
<circle cx="82.6" cy="107" r="3.0" fill="url(#atB)"/>
<circle cx="163.9" cy="117" r="3.0" fill="url(#atB)"/>
<circle cx="149.2" cy="117" r="3.0" fill="url(#atB)"/>
<circle cx="119.8" cy="117" r="3.0" fill="url(#atB)"/>
<circle cx="105.1" cy="117" r="3.0" fill="url(#atB)"/>
<circle cx="119.8" cy="117" r="3.0" fill="url(#atB)"/>
<circle cx="142.3" cy="127" r="3.0" fill="url(#atB)"/>
<circle cx="127.6" cy="127" r="3.0" fill="url(#atB)"/>
<circle cx="171.7" cy="127" r="3.0" fill="url(#atB)"/>
<circle cx="164.8" cy="137" r="3.0" fill="url(#atB)"/>
<circle cx="150.1" cy="137" r="3.0" fill="url(#atB)"/>
<circle cx="215" cy="137.8" r="2.9" fill="url(#atR)"/>
<circle cx="215" cy="149" r="2.9" fill="url(#atR)"/>
<circle cx="216" cy="160.8" r="2.9" fill="url(#atR)"/>
<circle cx="216.3" cy="172.8" r="2.9" fill="url(#atR)"/>
<text x="221.5" y="157.5" font-family='"Liberation Serif","DejaVu Serif",serif' font-size="13.5" fill="#e8403a">vg</text>
<path d="M175.3 148.5 V155.5 M175.3 163 V170" stroke="#1a1a1a" stroke-width="0.9" stroke-dasharray="1.6 0.8"/>
<text x="173" y="161.5" font-family='"Liberation Serif","DejaVu Serif",serif' font-size="6.5" font-style="italic" fill="#1a1a1a">d</text>
<circle cx="105.5" cy="180.5" r="2.9" fill="#6a6a6a"/>
<circle cx="105.5" cy="192" r="2.9" fill="#6a6a6a"/>
<circle cx="105.5" cy="203" r="2.9" fill="#6a6a6a"/>
<line x1="236" y1="101.5" x2="245" y2="105.8" stroke="#2e9a4a" stroke-width="1.2"/>
<polygon points="249.5,108 242.2,107.6 244.6,102.6" fill="#2e9a4a"/>
<line x1="197.5" y1="101" x2="243" y2="120.8" stroke="#1f2a78" stroke-width="1.1"/>
<polygon points="249,123.5 241,123.3 243.6,117.6" fill="#1f2a78"/>
<text x="251.5" y="115.8" font-family='"Liberation Serif","DejaVu Serif",serif' font-size="10.3" fill="#3aa55a" textLength="37" lengthAdjust="spacingAndGlyphs">Dielectric</text>
<text x="230.3" y="133.8" font-family='"Liberation Serif","DejaVu Serif",serif' font-size="10.3" fill="#2a2a80" textLength="58" lengthAdjust="spacingAndGlyphs">Graphene sheet</text>
<text x="246.5" y="147.2" font-family='"Liberation Serif","DejaVu Serif",serif' font-size="13.5" fill="#2a2a80"><tspan font-style="italic">δ</tspan>(vg)</text>
<line x1="7" y1="181" x2="4.6" y2="156" stroke="#e03a3a" stroke-width="1.2"/><polygon points="4.2,150.5 7.2,158 2.2,158.4" fill="#e03a3a"/>
<line x1="7" y1="181" x2="20" y2="160" stroke="#1f2a88" stroke-width="1.2"/><polygon points="23,155.5 21.6,163 17,160.2" fill="#1f2a88"/>
<line x1="7" y1="181" x2="28" y2="189.5" stroke="#1f6a3a" stroke-width="1.2"/><polygon points="33.5,191.8 26.2,192 28,187" fill="#1f6a3a"/>
<text x="1" y="148.5" font-family='"Liberation Serif","DejaVu Serif",serif' font-size="10" font-style="italic" fill="#e03a3a" transform="rotate(-75 3 146)">z</text>
<text x="24" y="152.5" font-family='"Liberation Serif","DejaVu Serif",serif' font-size="11.5" font-style="italic" font-weight="bold" fill="#1f2a88">y</text>
<text x="36.5" y="196" font-family='"Liberation Serif","DejaVu Serif",serif' font-size="11" font-style="italic" fill="#1f6a3a">x</text>
<text x="5" y="21" font-family='"Liberation Serif","DejaVu Serif",serif' font-size="15" font-style="italic" fill="#111" textLength="20">(a)</text>
</g>
<g id="pb">
<rect x="319.5" y="28" width="174.5" height="144" fill="url(#bgB)"/>
<rect x="319.5" y="28" width="174.5" height="144" fill="none" stroke="#3a4a50" stroke-width="0.9"/>
<path d="M323.7 172 v-1.5 M323.7 28 v1.5" stroke="#333" stroke-width="0.7"/>
<path d="M342.15 172 v-1.5 M342.15 28 v1.5" stroke="#333" stroke-width="0.7"/>
<path d="M360.6 172 v-1.5 M360.6 28 v1.5" stroke="#333" stroke-width="0.7"/>
<path d="M379.05 172 v-1.5 M379.05 28 v1.5" stroke="#333" stroke-width="0.7"/>
<path d="M397.5 172 v-1.5 M397.5 28 v1.5" stroke="#333" stroke-width="0.7"/>
<path d="M415.95 172 v-1.5 M415.95 28 v1.5" stroke="#333" stroke-width="0.7"/>
<path d="M434.4 172 v-1.5 M434.4 28 v1.5" stroke="#333" stroke-width="0.7"/>
<path d="M452.85 172 v-1.5 M452.85 28 v1.5" stroke="#333" stroke-width="0.7"/>
<path d="M471.3 172 v-1.5 M471.3 28 v1.5" stroke="#333" stroke-width="0.7"/>
<path d="M489.75 172 v-1.5 M489.75 28 v1.5" stroke="#333" stroke-width="0.7"/>
<path d="M319.5 172.2 h1.5 M494 172.2 h-1.5" stroke="#333" stroke-width="0.7"/>
<path d="M319.5 136.2 h1.5 M494 136.2 h-1.5" stroke="#333" stroke-width="0.7"/>
<path d="M319.5 100.2 h1.5 M494 100.2 h-1.5" stroke="#333" stroke-width="0.7"/>
<path d="M319.5 64.2 h1.5 M494 64.2 h-1.5" stroke="#333" stroke-width="0.7"/>
<path d="M319.5 28.2 h1.5 M494 28.2 h-1.5" stroke="#333" stroke-width="0.7"/>
<line x1="319.5" y1="100.2" x2="494" y2="100.2" stroke="#333" stroke-width="1" stroke-dasharray="2 1.6"/>
<line x1="404.8" y1="28" x2="404.8" y2="172" stroke="#444" stroke-width="1.2" stroke-dasharray="2 2"/>
<line x1="319.5" y1="83.8" x2="494" y2="83.8" stroke="#7a5a6a" stroke-width="1" stroke-dasharray="2.2 1.6"/>
<line x1="319.5" y1="86.6" x2="491.5" y2="114.3" stroke="#2e9a48" stroke-width="1.8"/>
<text x="316.3" y="31.1" text-anchor="end" font-family='"Liberation Serif","DejaVu Serif",serif' font-size="8.2" font-weight="bold" fill="#222">10</text>
<text x="316.3" y="67.1" text-anchor="end" font-family='"Liberation Serif","DejaVu Serif",serif' font-size="8.2" font-weight="bold" fill="#222">5</text>
<text x="316.3" y="103.1" text-anchor="end" font-family='"Liberation Serif","DejaVu Serif",serif' font-size="8.2" font-weight="bold" fill="#222">0</text>
<text x="316.3" y="139.1" text-anchor="end" font-family='"Liberation Serif","DejaVu Serif",serif' font-size="8.2" font-weight="bold" fill="#222">-5</text>
<text x="316.3" y="175.1" text-anchor="end" font-family='"Liberation Serif","DejaVu Serif",serif' font-size="8.2" font-weight="bold" fill="#222">-10</text>
<text x="323.2" y="182" text-anchor="middle" font-family='"Liberation Serif","DejaVu Serif",serif' font-size="8.2" font-weight="bold" fill="#222">0.1</text>
<text x="360.1" y="182" text-anchor="middle" font-family='"Liberation Serif","DejaVu Serif",serif' font-size="8.2" font-weight="bold" fill="#222">0.3</text>
<text x="397" y="182" text-anchor="middle" font-family='"Liberation Serif","DejaVu Serif",serif' font-size="8.2" font-weight="bold" fill="#222">0.5</text>
<text x="433.9" y="182" text-anchor="middle" font-family='"Liberation Serif","DejaVu Serif",serif' font-size="8.2" font-weight="bold" fill="#222">0.7</text>
<text x="470.8" y="182" text-anchor="middle" font-family='"Liberation Serif","DejaVu Serif",serif' font-size="8.2" font-weight="bold" fill="#222">0.9</text>
<text x="406.5" y="196" text-anchor="middle" font-family='"Liberation Serif","DejaVu Serif",serif' font-size="13" font-weight="bold" font-style="italic" fill="#222">μ<tspan font-size="9" dy="2">c</tspan><tspan dy="-2">/e</tspan></text>
<text x="362.5" y="137" text-anchor="middle" font-family='"Liberation Serif","DejaVu Serif",serif' font-size="12.8" font-weight="bold" font-style="italic" fill="#0e3a5e" textLength="61" lengthAdjust="spacing">Hyperboilc</text>
<text x="362.5" y="155" text-anchor="middle" font-family='"Liberation Serif","DejaVu Serif",serif' font-size="12.8" font-weight="bold" font-style="italic" fill="#0e3a5e" textLength="41" lengthAdjust="spacing">Regime</text>
<text x="447.3" y="137" text-anchor="middle" font-family='"Liberation Serif","DejaVu Serif",serif' font-size="12.8" font-weight="bold" font-style="italic" fill="#3a3512" textLength="52.5" lengthAdjust="spacing">Elliptical</text>
<text x="448.5" y="155.8" text-anchor="middle" font-family='"Liberation Serif","DejaVu Serif",serif' font-size="12.8" font-weight="bold" font-style="italic" fill="#3a3512" textLength="41.5" lengthAdjust="spacing">Regime</text>
<text x="463.5" y="79" font-family='"Liberation Serif","DejaVu Serif",serif' font-size="14" font-style="italic" fill="#c8904a">ε<tspan font-size="9" dy="2.5" font-style="normal">⊥</tspan></text>
<text x="459.5" y="119" font-family='"Liberation Serif","DejaVu Serif",serif' font-size="13" font-style="italic" fill="#46a846">ε<tspan font-size="9.5" dy="3">//</tspan></text>
<line x1="404.8" y1="66" x2="413.5" y2="58.2" stroke="#111" stroke-width="0.9"/><polygon points="416.5,55.5 414.8,60.2 411.6,56.8" fill="#111"/>
<text x="418.8" y="56.5" font-family='"Liberation Serif","DejaVu Serif",serif' font-size="8.8" font-weight="bold" fill="#111" textLength="23.5">0.54 <tspan font-style="italic">e</tspan></text>
<text x="279" y="19.8" font-family='"Liberation Serif","DejaVu Serif",serif' font-size="14.5" font-style="italic" fill="#111">(b)</text>
</g>
<g id="pc">
<polygon points="94.5,360 105,360 132.8,325 122.3,325" fill="#a9c6e4"/>
<polygon points="110.1,360 120.6,360 148.4,325 137.9,325" fill="#a9c6e4"/>
<polygon points="125.7,360 136.2,360 164,325 153.5,325" fill="#a9c6e4"/>
<polygon points="141.3,360 151.8,360 179.6,325 169.1,325" fill="#a9c6e4"/>
<polygon points="156.9,360 167.4,360 195.2,325 184.7,325" fill="#a9c6e4"/>
<path d="M160.2 236 L139.6 347.5 M185.8 267 L165.6 334.8" stroke="#555" stroke-width="0.6" stroke-dasharray="0.8 1" fill="none"/>
<polygon points="139.4,348.2 154.4,348.2 165.6,334.8 150.6,334.8" fill="none" stroke="#1a2a5a" stroke-width="1.7" stroke-dasharray="4 1.8" stroke-linejoin="round"/>
<path d="M107.3 358 v7 M119 358 v7 M122.3 358 v7 M138.5 358 v7 M147.8 358 v7 M155 358 v7" stroke="#666" stroke-width="0.5" stroke-dasharray="1 0.8"/>
<line x1="109" y1="362.5" x2="117.3" y2="362.5" stroke="#111" stroke-width="0.8"/>
<polygon points="108,362.5 110.4,361.2 110.4,363.8" fill="#111"/>
<polygon points="118.3,362.5 115.9,361.2 115.9,363.8" fill="#111"/>
<line x1="124" y1="362.5" x2="136.8" y2="362.5" stroke="#111" stroke-width="0.8"/>
<polygon points="123,362.5 125.4,361.2 125.4,363.8" fill="#111"/>
<polygon points="137.8,362.5 135.4,361.2 135.4,363.8" fill="#111"/>
<line x1="149.5" y1="362.5" x2="153.3" y2="362.5" stroke="#111" stroke-width="0.8"/>
<polygon points="148.5,362.5 150.9,361.2 150.9,363.8" fill="#111"/>
<polygon points="154.3,362.5 151.9,361.2 151.9,363.8" fill="#111"/>
<text x="113.6" y="373.6" text-anchor="middle" font-family='"Liberation Sans","DejaVu Sans",sans-serif' font-size="8.6" fill="#222">W</text>
<text x="130.5" y="373.6" text-anchor="middle" font-family='"Liberation Sans","DejaVu Sans",sans-serif' font-size="8.6" fill="#222">L</text>
<text x="152" y="373.6" text-anchor="middle" font-family='"Liberation Sans","DejaVu Sans",sans-serif' font-size="8.6" fill="#222">G</text>
<path d="M73.8 359.6 V348 M73.8 359.6 H85 M73.8 359.6 L83 349" stroke="#111" stroke-width="0.8" fill="none"/>
<polygon points="73.8,345.6 72.4,349 75.2,349" fill="#111"/><polygon points="87.4,359.6 84,358.2 84,361" fill="#111"/><polygon points="85,346.8 84.3,350.6 81.6,348.2" fill="#111"/>
<text x="62.5" y="344" font-family='"Liberation Serif","DejaVu Serif",serif' font-size="10" font-style="italic" fill="#111">ê<tspan font-size="7" dy="1.8">z</tspan></text>
<text x="80" y="344" font-family='"Liberation Serif","DejaVu Serif",serif' font-size="10" font-style="italic" fill="#111">ê<tspan font-size="7" dy="1.8">y</tspan></text>
<text x="80" y="369" font-family='"Liberation Serif","DejaVu Serif",serif' font-size="10" font-style="italic" fill="#111">ê<tspan font-size="7" dy="1.8">x</tspan></text>
<rect x="160.6" y="234" width="7.8" height="32.5" fill="#bccfe4"/><rect x="177.4" y="234" width="7.8" height="32.5" fill="#bccfe4"/>
<rect x="160.2" y="233.6" width="25.6" height="33.4" rx="1.5" fill="none" stroke="#1a1a1a" stroke-width="1.5" stroke-dasharray="4.6 2.4"/>
<ellipse cx="164.6" cy="242.4" rx="2.6" ry="2.1" fill="#f6c4cc" fill-opacity="0.5" stroke="#e2304e" stroke-width="0.75"/>
<ellipse cx="164.6" cy="245.6" rx="2.6" ry="2.1" fill="#f6c4cc" fill-opacity="0.5" stroke="#e2304e" stroke-width="0.75"/>
<ellipse cx="164.6" cy="248.8" rx="2.6" ry="2.1" fill="#f6c4cc" fill-opacity="0.5" stroke="#e2304e" stroke-width="0.75"/>
<ellipse cx="164.6" cy="252" rx="2.6" ry="2.1" fill="#f6c4cc" fill-opacity="0.5" stroke="#e2304e" stroke-width="0.75"/>
<ellipse cx="164.6" cy="255.2" rx="2.6" ry="2.1" fill="#f6c4cc" fill-opacity="0.5" stroke="#e2304e" stroke-width="0.75"/>
<path d="M164.6 240.4 l-2.5 -3 M164.6 257.2 l-2.5 3" stroke="#e2304e" stroke-width="0.7" fill="none"/>
<ellipse cx="181.2" cy="242.4" rx="2.6" ry="2.1" fill="#f6c4cc" fill-opacity="0.5" stroke="#e2304e" stroke-width="0.75"/>
<ellipse cx="181.2" cy="245.6" rx="2.6" ry="2.1" fill="#f6c4cc" fill-opacity="0.5" stroke="#e2304e" stroke-width="0.75"/>
<ellipse cx="181.2" cy="248.8" rx="2.6" ry="2.1" fill="#f6c4cc" fill-opacity="0.5" stroke="#e2304e" stroke-width="0.75"/>
<ellipse cx="181.2" cy="252" rx="2.6" ry="2.1" fill="#f6c4cc" fill-opacity="0.5" stroke="#e2304e" stroke-width="0.75"/>
<ellipse cx="181.2" cy="255.2" rx="2.6" ry="2.1" fill="#f6c4cc" fill-opacity="0.5" stroke="#e2304e" stroke-width="0.75"/>
<path d="M181.2 240.4 l2.5 -3 M181.2 257.2 l2.5 3" stroke="#e2304e" stroke-width="0.7" fill="none"/>
<path d="M171.4 243.8 V255.8 M174.6 243.8 V255.8 M168.5 249.8 H171.4 M174.6 249.8 H177.5" stroke="#2cb878" stroke-width="0.9" fill="none"/>
<path d="M59.5 229.5 V374.8 H232.5" fill="none" stroke="#444" stroke-width="0.9"/>
<line x1="59.5" y1="374.8" x2="59.5" y2="372.6" stroke="#444" stroke-width="0.8"/>
<text x="59.5" y="386.6" text-anchor="middle" font-family='"Liberation Sans","DejaVu Sans",sans-serif' font-size="10.5" fill="#1a1a1a">0</text>
<line x1="94" y1="374.8" x2="94" y2="372.6" stroke="#444" stroke-width="0.8"/>
<text x="94" y="386.6" text-anchor="middle" font-family='"Liberation Sans","DejaVu Sans",sans-serif' font-size="10.5" fill="#1a1a1a">10</text>
<line x1="128.5" y1="374.8" x2="128.5" y2="372.6" stroke="#444" stroke-width="0.8"/>
<text x="128.5" y="386.6" text-anchor="middle" font-family='"Liberation Sans","DejaVu Sans",sans-serif' font-size="10.5" fill="#1a1a1a">20</text>
<line x1="163" y1="374.8" x2="163" y2="372.6" stroke="#444" stroke-width="0.8"/>
<text x="163" y="386.6" text-anchor="middle" font-family='"Liberation Sans","DejaVu Sans",sans-serif' font-size="10.5" fill="#1a1a1a">30</text>
<line x1="197.5" y1="374.8" x2="197.5" y2="372.6" stroke="#444" stroke-width="0.8"/>
<text x="197.5" y="386.6" text-anchor="middle" font-family='"Liberation Sans","DejaVu Sans",sans-serif' font-size="10.5" fill="#1a1a1a">40</text>
<line x1="232" y1="374.8" x2="232" y2="372.6" stroke="#444" stroke-width="0.8"/>
<text x="232" y="386.6" text-anchor="middle" font-family='"Liberation Sans","DejaVu Sans",sans-serif' font-size="10.5" fill="#1a1a1a">50</text>
<line x1="59.5" y1="230.15" x2="61.7" y2="230.15" stroke="#444" stroke-width="0.8"/>
<text x="56.8" y="233.95" text-anchor="end" font-family='"Liberation Sans","DejaVu Sans",sans-serif' font-size="10.5" fill="#1a1a1a">1.5</text>
<line x1="59.5" y1="259.1" x2="61.7" y2="259.1" stroke="#444" stroke-width="0.8"/>
<text x="56.8" y="262.9" text-anchor="end" font-family='"Liberation Sans","DejaVu Sans",sans-serif' font-size="10.5" fill="#1a1a1a">1</text>
<line x1="59.5" y1="288.05" x2="61.7" y2="288.05" stroke="#444" stroke-width="0.8"/>
<text x="56.8" y="291.85" text-anchor="end" font-family='"Liberation Sans","DejaVu Sans",sans-serif' font-size="10.5" fill="#1a1a1a">0.5</text>
<line x1="59.5" y1="317" x2="61.7" y2="317" stroke="#444" stroke-width="0.8"/>
<text x="56.8" y="320.8" text-anchor="end" font-family='"Liberation Sans","DejaVu Sans",sans-serif' font-size="10.5" fill="#1a1a1a">0</text>
<line x1="59.5" y1="345.95" x2="61.7" y2="345.95" stroke="#444" stroke-width="0.8"/>
<text x="56.8" y="349.75" text-anchor="end" font-family='"Liberation Sans","DejaVu Sans",sans-serif' font-size="10.5" fill="#1a1a1a">-0.5</text>
<line x1="59.5" y1="374.9" x2="61.7" y2="374.9" stroke="#444" stroke-width="0.8"/>
<text x="56.8" y="378.7" text-anchor="end" font-family='"Liberation Sans","DejaVu Sans",sans-serif' font-size="10.5" fill="#1a1a1a">-1</text>
<text x="145" y="397.3" text-anchor="middle" font-family='"Liberation Sans","DejaVu Sans",sans-serif' font-size="11.3" fill="#1a1a1a">W (nm)</text>
<text transform="translate(34.8 303) rotate(-90)" text-anchor="middle" font-family='"Liberation Sans","DejaVu Sans",sans-serif' font-size="11.8" fill="#1a1a1a">Conductivity (mS)</text>
<clipPath id="cclip"><rect x="59.5" y="229" width="176" height="145.8"/></clipPath>
<g clip-path="url(#cclip)">
<line x1="59.5" y1="317" x2="232" y2="273" stroke="#e0203c" stroke-width="2" stroke-dasharray="4.5 2"/>
<path d="M65.81 311.62 l6 6 M65.81 317.62 l6 -6" stroke="#e0203c" stroke-width="1"/>
<path d="M77.2 308.72 l6 6 M77.2 314.72 l6 -6" stroke="#e0203c" stroke-width="1"/>
<path d="M87.55 306.08 l6 6 M87.55 312.08 l6 -6" stroke="#e0203c" stroke-width="1"/>
<path d="M108.25 300.8 l6 6 M108.25 306.8 l6 -6" stroke="#e0203c" stroke-width="1"/>
<path d="M127.23 295.96 l6 6 M127.23 301.96 l6 -6" stroke="#e0203c" stroke-width="1"/>
<path d="M142.75 292 l6 6 M142.75 298 l6 -6" stroke="#e0203c" stroke-width="1"/>
<path d="M157.24 288.3 l6 6 M157.24 294.3 l6 -6" stroke="#e0203c" stroke-width="1"/>
<path d="M171.04 284.78 l6 6 M171.04 290.78 l6 -6" stroke="#e0203c" stroke-width="1"/>
<path d="M187.95 280.47 l6 6 M187.95 286.47 l6 -6" stroke="#e0203c" stroke-width="1"/>
<path d="M203.47 276.51 l6 6 M203.47 282.51 l6 -6" stroke="#e0203c" stroke-width="1"/>
<polygon points="59.5,315.26 216.47,315.26 222.34,314.11 224.41,311.21 225.45,302.52 225.79,282.26 225.96,224.36 229.76,224.36 229.93,282.26 230.28,302.52 231.31,311.21 233.03,314.11 233.03,317 59.5,317" fill="#2b4aa0"/>
<path d="M59.5 317.23 L61.23 317.23 L62.95 317.23 L64.67 317.24 L66.4 317.24 L68.12 317.24 L69.85 317.24 L71.58 317.24 L73.3 317.24 L75.03 317.25 L76.75 317.25 L78.47 317.25 L80.2 317.25 L81.92 317.25 L83.65 317.25 L85.38 317.26 L87.1 317.26 L88.83 317.26 L90.55 317.26 L92.28 317.26 L94 317.27 L95.72 317.27 L97.45 317.27 L99.18 317.27 L100.9 317.27 L102.62 317.27 L104.35 317.28 L106.08 317.28 L107.8 317.28 L109.53 317.28 L111.25 317.28 L112.97 317.29 L114.7 317.29 L116.43 317.29 L118.15 317.29 L119.88 317.29 L121.6 317.3 L123.33 317.3 L125.05 317.3 L126.78 317.3 L128.5 317.3 L130.23 317.31 L131.95 317.31 L133.68 317.31 L135.4 317.31 L137.12 317.31 L138.85 317.32 L140.57 317.32 L142.3 317.32 L144.03 317.32 L145.75 317.32 L147.48 317.33 L149.2 317.33 L150.93 317.33 L152.65 317.33 L154.38 317.34 L156.1 317.34 L157.82 317.34 L159.55 317.34 L161.28 317.35 L163 317.35 L164.73 317.37 L166.45 317.4 L168.18 317.44 L169.9 317.47 L171.62 317.51 L173.35 317.55 L175.07 317.59 L176.8 317.63 L178.53 317.68 L180.25 317.74 L181.98 317.79 L183.7 317.86 L185.43 317.92 L187.15 318 L188.88 318.07 L190.6 318.16 L192.33 318.38 L194.05 318.64 L195.78 318.96 L197.5 319.33 L197.84 319.41 L198.19 319.5 L198.54 319.59 L198.88 319.68 L199.23 319.78 L199.57 319.88 L199.92 319.98 L200.26 320.08 L200.61 320.19 L200.95 320.31 L201.3 320.43 L201.64 320.55 L201.99 320.67 L202.33 320.8 L202.68 320.94 L203.02 321.08 L203.37 321.23 L203.71 321.38 L204.06 321.53 L204.4 321.69 L204.75 321.86 L205.09 322.03 L205.44 322.21 L205.78 322.4 L206.13 322.59 L206.47 322.79 L206.82 323.02 L207.16 323.27 L207.51 323.52 L207.85 323.79 L208.2 324.06 L208.54 324.35 L208.89 324.65 L209.23 324.96 L209.58 325.28 L209.92 325.61 L210.27 325.96 L210.61 326.33 L210.96 326.7 L211.3 327.1 L211.65 327.51 L211.99 327.93 L212.34 328.38 L212.68 328.84 L213.03 329.32 L213.37 329.82 L213.72 330.34 L214.06 330.88 L214.41 331.44 L214.75 332.02 L215.1 332.63 L215.44 333.34 L215.79 334.07 L216.13 334.84 L216.48 335.64 L216.82 336.48 L217.17 337.36 L217.51 338.27 L217.86 339.23 L218.2 340.23 L218.55 341.28 L218.89 342.37 L219.24 343.51 L219.58 344.7 L219.93 345.95 L220.27 347.46 L220.62 349.05 L220.96 350.72 L221.31 352.48 L221.65 354.33 L222 356.27 L222.34 358.32 L222.69 360.47 L223.03 362.74 L223.38 366.48 L223.72 370.52 L224.07 374.9 L224.41 383.02" fill="none" stroke="#2b4aa0" stroke-width="1.6" stroke-dasharray="4.5 2.2"/>
<line x1="228" y1="376" x2="228" y2="229" stroke="#2b4aa0" stroke-width="1.4" stroke-dasharray="4 2"/>
<path d="M229.5 229 Q230.5 262 232.3 272.5" fill="none" stroke="#2b4aa0" stroke-width="1.6" stroke-dasharray="4.5 2"/>
<path d="M59.5 316.31 L223.03 316.31 L225.79 314.68 L227.52 307.16 L229.24 314.68 L232 316.13" fill="none" stroke="#e0203c" stroke-width="1.6"/>
</g>
<rect x="59.71" y="314.1" width="5.8" height="5.8" fill="none" stroke="#5a5ac8" stroke-width="1"/>
<rect x="65.91" y="314.1" width="5.8" height="5.8" fill="none" stroke="#5a5ac8" stroke-width="1"/>
<rect x="77.3" y="314.1" width="5.8" height="5.8" fill="none" stroke="#5a5ac8" stroke-width="1"/>
<rect x="87.65" y="314.1" width="5.8" height="5.8" fill="none" stroke="#5a5ac8" stroke-width="1"/>
<rect x="108.35" y="314.1" width="5.8" height="5.8" fill="none" stroke="#5a5ac8" stroke-width="1"/>
<rect x="127.33" y="314.1" width="5.8" height="5.8" fill="none" stroke="#5a5ac8" stroke-width="1"/>
<rect x="142.85" y="314.1" width="5.8" height="5.8" fill="none" stroke="#5a5ac8" stroke-width="1"/>
<rect x="157.34" y="314.1" width="5.8" height="5.8" fill="none" stroke="#5a5ac8" stroke-width="1"/>
<rect x="171.14" y="314.1" width="5.8" height="5.8" fill="none" stroke="#5a5ac8" stroke-width="1"/>
<rect x="188.05" y="314.1" width="5.8" height="5.8" fill="none" stroke="#5a5ac8" stroke-width="1"/>
<rect x="203.57" y="319.89" width="5.8" height="5.8" fill="none" stroke="#5a5ac8" stroke-width="1"/>
<rect x="229.3" y="270.3" width="5.4" height="5.4" fill="none" stroke="#c03060" stroke-width="1"/>
<line x1="70.6" y1="231.5" x2="87" y2="231.5" stroke="#2b4aa0" stroke-width="1.6"/>
<text x="89.8" y="234.9" font-family='"Liberation Sans","DejaVu Sans",sans-serif' font-size="9.8" fill="#1a1a1a">Re[σ<tspan font-size="7.2" dy="3.8">xx</tspan><tspan dy="-3.8">]</tspan></text>
<line x1="70.6" y1="247.95" x2="87" y2="247.95" stroke="#2b4aa0" stroke-width="1.6" stroke-dasharray="3.1 1.5"/>
<text x="89.8" y="251.35" font-family='"Liberation Sans","DejaVu Sans",sans-serif' font-size="9.8" fill="#1a1a1a">Im[σ<tspan font-size="7.2" dy="3.8">xx</tspan><tspan dy="-3.8">]</tspan></text>
<line x1="70.6" y1="264.4" x2="87" y2="264.4" stroke="#e0203c" stroke-width="1.6"/>
<text x="89.8" y="267.8" font-family='"Liberation Sans","DejaVu Sans",sans-serif' font-size="9.8" fill="#1a1a1a">Re[σ<tspan font-size="7.2" dy="3.8">yy</tspan><tspan dy="-3.8">]</tspan></text>
<line x1="70.6" y1="280.85" x2="87" y2="280.85" stroke="#e0203c" stroke-width="1.6" stroke-dasharray="3.1 1.5"/>
<text x="89.8" y="284.25" font-family='"Liberation Sans","DejaVu Sans",sans-serif' font-size="9.8" fill="#1a1a1a">Im[σ<tspan font-size="7.2" dy="3.8">yy</tspan><tspan dy="-3.8">]</tspan></text>
<text x="10" y="240.3" font-family='"Liberation Serif","DejaVu Serif",serif' font-size="14.5" font-style="italic" fill="#111">(c)</text>
</g>
<g id="pde">
<rect x="251" y="223.5" width="119.2" height="166.6" fill="#2a53ad"/>
<g clip-path="url(#clD)"><g transform="translate(-0.4 -0.9)">
<ellipse cx="311.5" cy="393" rx="64" ry="6" fill="#2f9ce0" filter="url(#bl3)" opacity="0.9"/>
<polygon points="307.67,392.21 315.33,385.79 268.01,326.28 257.29,335.28" fill="#2f86dc" filter="url(#bl5)" opacity="0.85"/>
<polygon points="307.61,385.85 315.39,392.15 369.8,328.12 358.92,319.31" fill="#2f86dc" filter="url(#bl5)" opacity="0.9"/>
<polygon points="306.9,392.86 316.1,385.14 273.95,339.58 269.35,343.43" fill="#38b4ea" filter="url(#bl3)" opacity="0.85"/>
<polygon points="306.84,385.22 316.16,392.78 357.88,336.49 353.22,332.71" fill="#38b4ea" filter="url(#bl3)" opacity="0.9"/>
<polygon points="309.23,393.46 313.77,384.54 275.44,367.26 272.72,372.61" fill="#35b0e6" filter="url(#bl3)" opacity="0.9"/>
<polygon points="309,384.67 314,393.33 349.37,370.6 346.37,365.4" fill="#35b0e6" filter="url(#bl3)" opacity="0.9"/>
<ellipse cx="311.5" cy="391" rx="34" ry="13" fill="#38c4e0" filter="url(#bl3)"/>
<polygon points="305.84,393.92 317.16,384.08 285.83,355.66 282.06,358.94" fill="#62d474" filter="url(#bl2)" opacity="1"/>
<polygon points="305.67,384.28 317.33,393.72 341.76,355.6 337.88,352.46" fill="#62d474" filter="url(#bl2)" opacity="1"/>
<polygon points="309.62,392.53 313.38,385.47 287.72,374.09 285.84,377.62" fill="#62d474" filter="url(#bl2)" opacity="0.9"/>
<polygon points="309.5,385.54 313.5,392.46 336.75,376.73 334.75,373.27" fill="#62d474" filter="url(#bl2)" opacity="0.9"/>
<ellipse cx="311.5" cy="392" rx="28" ry="11" fill="#6cd868" filter="url(#bl2)"/>
<path d="M251 391 L251 387.5 Q256 385 261 387.5 T271 387 T281 386 T291 384 L332 384 Q338 386 343 385.5 T353 387 T363 387 T371 387.5 L371 391Z" fill="#40c8d8" filter="url(#bl1)"/>
<path d="M262 391 Q270 388.5 280 388.5 L292 386 L332 386 L345 388 Q355 388.5 362 391Z" fill="#70d868" filter="url(#bl1)"/>
<polygon points="308.48,391.62 314.52,386.38 298.2,371.41 295.93,373.38" fill="#e6e040" filter="url(#bl2)" opacity="1"/>
<polygon points="308.39,386.48 314.61,391.52 327.14,372.07 324.81,370.18" fill="#e6e040" filter="url(#bl2)" opacity="1"/>
<polygon points="292.5,392 293.5,388 296,385.5 299.5,384.5 302.5,382.5 304.5,379.5 307,382 309.5,385 312,387 314.5,384.5 317,381 319.5,378.5 321.5,382.5 324.5,384.5 328,385 330,388 331,392" fill="#efe040" stroke="#efe040" stroke-width="6" stroke-linejoin="round" filter="url(#bl1)"/>
<polygon points="292.5,392 293.5,388 296,385.5 299.5,384.5 302.5,382.5 304.5,379.5 307,382 309.5,385 312,387 314.5,384.5 317,381 319.5,378.5 321.5,382.5 324.5,384.5 328,385 330,388 331,392" fill="#f08a30" stroke="#f08a30" stroke-width="2.5" stroke-linejoin="round" filter="url(#bl06)"/>
<polygon points="292.5,392 293.5,388 296,385.5 299.5,384.5 302.5,382.5 304.5,379.5 307,382 309.5,385 312,387 314.5,384.5 317,381 319.5,378.5 321.5,382.5 324.5,384.5 328,385 330,388 331,392" fill="#e0261e" filter="url(#bl06)"/>
</g></g>
<rect x="259.2" y="322" width="6.8" height="57.5" fill="url(#jet)" stroke="#c8d0e0" stroke-width="0.5"/>
<text x="268.6" y="328.8" font-family='"Liberation Sans","DejaVu Sans",sans-serif' font-size="10.2" fill="#dfe4f0">1</text>
<text x="269" y="378.4" font-family='"Liberation Sans","DejaVu Sans",sans-serif' font-size="10.2" fill="#dfe4f0">0</text>
<path d="M298.3 298 V277 M298.3 298 H320.3" stroke="#e8ecf6" stroke-width="0.9" fill="none"/>
<path d="M295.7 279.5 l2.6 -4 l2.6 4 M317.8 295.4 l4 2.6 l-4 2.6" stroke="#e8ecf6" stroke-width="0.9" fill="none"/>
<text x="295" y="268.5" font-family='"Liberation Serif","DejaVu Serif",serif' font-size="12" font-style="italic" fill="#e8ecf6">ê<tspan font-size="8.5" dy="2.2">y</tspan></text>
<text x="324" y="301" font-family='"Liberation Serif","DejaVu Serif",serif' font-size="12" font-style="italic" fill="#e8ecf6">ê<tspan font-size="8.5" dy="2.2">x</tspan></text>
<rect x="319.8" y="247.8" width="38.8" height="3.2" fill="#d4d6e0"/>
<text x="339.5" y="243.2" text-anchor="middle" font-family='"Liberation Sans","DejaVu Sans",sans-serif' font-size="12.2" fill="#d4d8e6">2 μm</text>
<text x="259" y="240" font-family='"Liberation Serif","DejaVu Serif",serif' font-size="13.5" font-style="italic" fill="#f4f6fb">(d)</text>
<rect x="380.7" y="223.5" width="119.8" height="166.6" fill="#2a53ad"/>
<g clip-path="url(#clE)"><g transform="translate(0 -0.9)">
<path d="M379 249.5 L439.8 389.5 L502 236.5" fill="none" stroke="#3a8ae0" stroke-width="6" filter="url(#bl3)" opacity="0.38"/>
<path d="M379 249.5 L439.8 389.5 L502 236.5" fill="none" stroke="url(#vA)" stroke-width="3.6" filter="url(#bl1)"/>
<path d="M379 249.5 L439.8 389.5 L502 236.5" fill="none" stroke="url(#vB)" stroke-width="2.6" filter="url(#bl06)"/>
<ellipse cx="439.8" cy="390" rx="14" ry="2.2" fill="#40c0e0" filter="url(#bl1)" opacity="0.8"/>
<ellipse cx="439.8" cy="388.5" rx="2.2" ry="3.2" fill="#e83020" filter="url(#bl06)"/>
</g></g>
<rect x="388" y="322" width="6.8" height="57.5" fill="url(#jet)" stroke="#c8d0e0" stroke-width="0.5"/>
<text x="397.4" y="328.8" font-family='"Liberation Sans","DejaVu Sans",sans-serif' font-size="10.2" fill="#dfe4f0">0.5</text>
<text x="397.8" y="378.4" font-family='"Liberation Sans","DejaVu Sans",sans-serif' font-size="10.2" fill="#dfe4f0">0</text>
<path d="M427.1 298 V277 M427.1 298 H449.1" stroke="#e8ecf6" stroke-width="0.9" fill="none"/>
<path d="M424.5 279.5 l2.6 -4 l2.6 4 M446.6 295.4 l4 2.6 l-4 2.6" stroke="#e8ecf6" stroke-width="0.9" fill="none"/>
<text x="423.8" y="268.5" font-family='"Liberation Serif","DejaVu Serif",serif' font-size="12" font-style="italic" fill="#e8ecf6">ê<tspan font-size="8.5" dy="2.2">y</tspan></text>
<text x="452.8" y="301" font-family='"Liberation Serif","DejaVu Serif",serif' font-size="12" font-style="italic" fill="#e8ecf6">ê<tspan font-size="8.5" dy="2.2">x</tspan></text>
<rect x="447.4" y="247.4" width="39.2" height="3.2" fill="#d4d6e0"/>
<text x="467" y="243" text-anchor="middle" font-family='"Liberation Sans","DejaVu Sans",sans-serif' font-size="12.2" fill="#d4d8e6">2 μm</text>
<text x="388.8" y="240.8" font-family='"Liberation Serif","DejaVu Serif",serif' font-size="13.5" font-style="italic" fill="#f4f6fb">(e)</text>
</g>
<g id="pf">
<polygon points="48,424.5 189,423.5 192,578.5 45.5,585.5" fill="url(#pcbG)"/>
<g clip-path="url(#clF)">
<polygon points="47,424 190,423 190,435.5 47,436.5" fill="#2b2c2e"/>
<g filter="url(#fblur)">
<line x1="47.85" y1="433" x2="46.79" y2="586" stroke="#a8abaf" stroke-width="1.3" opacity="0.69"/>
<line x1="54.93" y1="433" x2="54.12" y2="586" stroke="#a8abaf" stroke-width="1.3" opacity="0.77"/>
<line x1="62.01" y1="433" x2="61.46" y2="586" stroke="#a8abaf" stroke-width="1.3" opacity="0.73"/>
<line x1="69.08" y1="433" x2="68.79" y2="586" stroke="#a8abaf" stroke-width="1.3" opacity="0.79"/>
<line x1="76.16" y1="433" x2="76.12" y2="586" stroke="#a8abaf" stroke-width="1.3" opacity="0.79"/>
<line x1="83.24" y1="433" x2="83.45" y2="586" stroke="#a8abaf" stroke-width="1.3" opacity="0.65"/>
<line x1="90.32" y1="433" x2="90.78" y2="586" stroke="#a8abaf" stroke-width="1.3" opacity="0.63"/>
<line x1="97.4" y1="433" x2="98.11" y2="586" stroke="#a8abaf" stroke-width="1.3" opacity="0.85"/>
<line x1="104.48" y1="433" x2="105.45" y2="586" stroke="#a8abaf" stroke-width="1.3" opacity="0.7"/>
<line x1="111.55" y1="433" x2="112.78" y2="586" stroke="#a8abaf" stroke-width="1.3" opacity="0.69"/>
<line x1="118.63" y1="433" x2="120.11" y2="586" stroke="#a8abaf" stroke-width="1.3" opacity="0.89"/>
<line x1="125.71" y1="433" x2="127.44" y2="586" stroke="#a8abaf" stroke-width="1.3" opacity="0.75"/>
<line x1="132.79" y1="433" x2="134.77" y2="586" stroke="#a8abaf" stroke-width="1.3" opacity="0.85"/>
<line x1="139.87" y1="433" x2="142.1" y2="586" stroke="#a8abaf" stroke-width="1.3" opacity="0.76"/>
<line x1="146.95" y1="433" x2="149.44" y2="586" stroke="#a8abaf" stroke-width="1.3" opacity="0.8"/>
<line x1="154.02" y1="433" x2="156.77" y2="586" stroke="#a8abaf" stroke-width="1.3" opacity="0.67"/>
<line x1="161.1" y1="433" x2="164.1" y2="586" stroke="#a8abaf" stroke-width="1.3" opacity="0.8"/>
<line x1="168.18" y1="433" x2="171.43" y2="586" stroke="#a8abaf" stroke-width="1.3" opacity="0.86"/>
<line x1="175.26" y1="433" x2="178.76" y2="586" stroke="#a8abaf" stroke-width="1.3" opacity="0.77"/>
<line x1="182.34" y1="433" x2="186.09" y2="586" stroke="#a8abaf" stroke-width="1.3" opacity="0.82"/>
<line x1="189.42" y1="433" x2="193.43" y2="586" stroke="#a8abaf" stroke-width="1.3" opacity="0.81"/>
<line x1="46" y1="584.84" x2="194" y2="578.21" stroke="#a4a7ab" stroke-width="1.2" opacity="0.59"/>
<line x1="46" y1="577.63" x2="194" y2="571.28" stroke="#a4a7ab" stroke-width="1.2" opacity="0.78"/>
<line x1="46" y1="570.42" x2="194" y2="564.35" stroke="#a4a7ab" stroke-width="1.2" opacity="0.73"/>
<line x1="46" y1="563.21" x2="194" y2="557.42" stroke="#a4a7ab" stroke-width="1.2" opacity="0.66"/>
<line x1="46" y1="556" x2="194" y2="550.49" stroke="#a4a7ab" stroke-width="1.2" opacity="0.59"/>
<line x1="46" y1="548.79" x2="194" y2="543.55" stroke="#a4a7ab" stroke-width="1.2" opacity="0.8"/>
<line x1="46" y1="541.57" x2="194" y2="536.62" stroke="#a4a7ab" stroke-width="1.2" opacity="0.7"/>
<line x1="46" y1="534.36" x2="194" y2="529.69" stroke="#a4a7ab" stroke-width="1.2" opacity="0.77"/>
<line x1="46" y1="527.15" x2="194" y2="522.76" stroke="#a4a7ab" stroke-width="1.2" opacity="0.81"/>
<line x1="46" y1="519.94" x2="194" y2="515.83" stroke="#a4a7ab" stroke-width="1.2" opacity="0.76"/>
<line x1="46" y1="512.73" x2="194" y2="508.9" stroke="#a4a7ab" stroke-width="1.2" opacity="0.82"/>
<line x1="46" y1="505.51" x2="194" y2="501.97" stroke="#a4a7ab" stroke-width="1.2" opacity="0.68"/>
<line x1="46" y1="498.3" x2="194" y2="495.04" stroke="#a4a7ab" stroke-width="1.2" opacity="0.79"/>
<line x1="46" y1="491.09" x2="194" y2="488.1" stroke="#a4a7ab" stroke-width="1.2" opacity="0.69"/>
<line x1="46" y1="483.88" x2="194" y2="481.17" stroke="#a4a7ab" stroke-width="1.2" opacity="0.82"/>
<line x1="46" y1="476.67" x2="194" y2="474.24" stroke="#a4a7ab" stroke-width="1.2" opacity="0.81"/>
<line x1="46" y1="469.45" x2="194" y2="467.31" stroke="#a4a7ab" stroke-width="1.2" opacity="0.6"/>
<line x1="46" y1="462.24" x2="194" y2="460.38" stroke="#a4a7ab" stroke-width="1.2" opacity="0.61"/>
<line x1="46" y1="455.03" x2="194" y2="453.45" stroke="#a4a7ab" stroke-width="1.2" opacity="0.63"/>
<line x1="46" y1="447.82" x2="194" y2="446.52" stroke="#a4a7ab" stroke-width="1.2" opacity="0.83"/>
<line x1="46" y1="440.61" x2="194" y2="439.59" stroke="#a4a7ab" stroke-width="1.2" opacity="0.69"/>
<g mask="url(#glM)">
<polygon points="44,420 196,420 196,590 44,590" fill="#8a8c8e" opacity="0.45"/>
<line x1="47.85" y1="433" x2="46.79" y2="586" stroke="#e4e6e8" stroke-width="2" opacity="0.91"/>
<line x1="54.93" y1="433" x2="54.12" y2="586" stroke="#e4e6e8" stroke-width="2" opacity="0.81"/>
<line x1="62.01" y1="433" x2="61.46" y2="586" stroke="#e4e6e8" stroke-width="2" opacity="0.87"/>
<line x1="69.08" y1="433" x2="68.79" y2="586" stroke="#e4e6e8" stroke-width="2" opacity="0.84"/>
<line x1="76.16" y1="433" x2="76.12" y2="586" stroke="#e4e6e8" stroke-width="2" opacity="0.83"/>
<line x1="83.24" y1="433" x2="83.45" y2="586" stroke="#e4e6e8" stroke-width="2" opacity="0.9"/>
<line x1="90.32" y1="433" x2="90.78" y2="586" stroke="#e4e6e8" stroke-width="2" opacity="0.9"/>
<line x1="97.4" y1="433" x2="98.11" y2="586" stroke="#e4e6e8" stroke-width="2" opacity="0.99"/>
<line x1="104.48" y1="433" x2="105.45" y2="586" stroke="#e4e6e8" stroke-width="2" opacity="0.92"/>
<line x1="111.55" y1="433" x2="112.78" y2="586" stroke="#e4e6e8" stroke-width="2" opacity="1"/>
<line x1="118.63" y1="433" x2="120.11" y2="586" stroke="#e4e6e8" stroke-width="2" opacity="0.98"/>
<line x1="125.71" y1="433" x2="127.44" y2="586" stroke="#e4e6e8" stroke-width="2" opacity="1"/>
<line x1="132.79" y1="433" x2="134.77" y2="586" stroke="#e4e6e8" stroke-width="2" opacity="0.92"/>
<line x1="139.87" y1="433" x2="142.1" y2="586" stroke="#e4e6e8" stroke-width="2" opacity="0.77"/>
<line x1="146.95" y1="433" x2="149.44" y2="586" stroke="#e4e6e8" stroke-width="2" opacity="0.98"/>
<line x1="154.02" y1="433" x2="156.77" y2="586" stroke="#e4e6e8" stroke-width="2" opacity="1"/>
<line x1="161.1" y1="433" x2="164.1" y2="586" stroke="#e4e6e8" stroke-width="2" opacity="0.99"/>
<line x1="168.18" y1="433" x2="171.43" y2="586" stroke="#e4e6e8" stroke-width="2" opacity="0.89"/>
<line x1="175.26" y1="433" x2="178.76" y2="586" stroke="#e4e6e8" stroke-width="2" opacity="0.93"/>
<line x1="182.34" y1="433" x2="186.09" y2="586" stroke="#e4e6e8" stroke-width="2" opacity="0.78"/>
<line x1="189.42" y1="433" x2="193.43" y2="586" stroke="#e4e6e8" stroke-width="2" opacity="0.97"/>
<line x1="46" y1="584.84" x2="194" y2="578.21" stroke="#d8dadc" stroke-width="1.9" opacity="0.83"/>
<line x1="46" y1="577.63" x2="194" y2="571.28" stroke="#d8dadc" stroke-width="1.9" opacity="0.75"/>
<line x1="46" y1="570.42" x2="194" y2="564.35" stroke="#d8dadc" stroke-width="1.9" opacity="0.68"/>
<line x1="46" y1="563.21" x2="194" y2="557.42" stroke="#d8dadc" stroke-width="1.9" opacity="0.92"/>
<line x1="46" y1="556" x2="194" y2="550.49" stroke="#d8dadc" stroke-width="1.9" opacity="0.96"/>
<line x1="46" y1="548.79" x2="194" y2="543.55" stroke="#d8dadc" stroke-width="1.9" opacity="0.69"/>
<line x1="46" y1="541.57" x2="194" y2="536.62" stroke="#d8dadc" stroke-width="1.9" opacity="0.9"/>
<line x1="46" y1="534.36" x2="194" y2="529.69" stroke="#d8dadc" stroke-width="1.9" opacity="0.78"/>
<line x1="46" y1="527.15" x2="194" y2="522.76" stroke="#d8dadc" stroke-width="1.9" opacity="0.71"/>
<line x1="46" y1="519.94" x2="194" y2="515.83" stroke="#d8dadc" stroke-width="1.9" opacity="0.75"/>
<line x1="46" y1="512.73" x2="194" y2="508.9" stroke="#d8dadc" stroke-width="1.9" opacity="0.89"/>
<line x1="46" y1="505.51" x2="194" y2="501.97" stroke="#d8dadc" stroke-width="1.9" opacity="0.92"/>
<line x1="46" y1="498.3" x2="194" y2="495.04" stroke="#d8dadc" stroke-width="1.9" opacity="0.67"/>
<line x1="46" y1="491.09" x2="194" y2="488.1" stroke="#d8dadc" stroke-width="1.9" opacity="0.84"/>
<line x1="46" y1="483.88" x2="194" y2="481.17" stroke="#d8dadc" stroke-width="1.9" opacity="0.67"/>
<line x1="46" y1="476.67" x2="194" y2="474.24" stroke="#d8dadc" stroke-width="1.9" opacity="0.88"/>
<line x1="46" y1="469.45" x2="194" y2="467.31" stroke="#d8dadc" stroke-width="1.9" opacity="0.76"/>
<line x1="46" y1="462.24" x2="194" y2="460.38" stroke="#d8dadc" stroke-width="1.9" opacity="0.92"/>
<line x1="46" y1="455.03" x2="194" y2="453.45" stroke="#d8dadc" stroke-width="1.9" opacity="0.95"/>
<line x1="46" y1="447.82" x2="194" y2="446.52" stroke="#d8dadc" stroke-width="1.9" opacity="0.81"/>
<line x1="46" y1="440.61" x2="194" y2="439.59" stroke="#d8dadc" stroke-width="1.9" opacity="0.96"/>
</g>
<line x1="47" y1="433.2" x2="190" y2="432.4" stroke="#9a9ca0" stroke-width="1.2" opacity="0.75"/>
</g>
<polygon points="44,420 196,420 196,590 44,590" fill="url(#fshade)"/>
<line x1="177.75" y1="568" x2="178.03" y2="580" stroke="#f0f2f4" stroke-width="1.5" opacity="0.85"/>
<line x1="185.05" y1="568" x2="185.35" y2="580" stroke="#f0f2f4" stroke-width="1.5" opacity="0.85"/>
<line x1="192.35" y1="568" x2="192.67" y2="580" stroke="#f0f2f4" stroke-width="1.5" opacity="0.85"/>
</g>
<path d="M50.2 426 V430.4 M50.2 428.2 H63" stroke="#e02626" stroke-width="1.1" fill="none"/><polygon points="66.6,428.2 62.2,426.4 62.2,430" fill="#e02626"/>
<text x="40" y="422.3" font-family='"Liberation Serif","DejaVu Serif",serif' font-size="12.8" fill="#e02626">DC</text>
<text x="131.8" y="423.3" text-anchor="middle" font-family='"Liberation Sans","DejaVu Sans",sans-serif' font-size="5.6" fill="#e02626">24 mm</text>
<path d="M126 427 V431 M140 427 V431 M126 429 H140" stroke="#e02626" stroke-width="0.7" fill="none"/>
<rect x="125.8" y="444.8" width="10" height="16" fill="none" stroke="#e02626" stroke-width="0.7" stroke-dasharray="1 1"/>
<line x1="127" y1="446.3" x2="203" y2="446.3" stroke="#e02626" stroke-width="1" stroke-dasharray="1.1 0.8"/><polygon points="209.5,446.3 203,443.6 203,449" fill="#e02626"/>
<text x="45.5" y="443.4" text-anchor="end" font-family='"Liberation Sans","DejaVu Sans",sans-serif' font-size="7.2" font-weight="bold" fill="#e02626">21</text>
<text x="45.5" y="456.9" text-anchor="end" font-family='"Liberation Sans","DejaVu Sans",sans-serif' font-size="7.2" font-weight="bold" fill="#e02626">19</text>
<text x="45.5" y="470.9" text-anchor="end" font-family='"Liberation Sans","DejaVu Sans",sans-serif' font-size="7.2" font-weight="bold" fill="#e02626">17</text>
<text x="45.5" y="485.1" text-anchor="end" font-family='"Liberation Sans","DejaVu Sans",sans-serif' font-size="7.2" font-weight="bold" fill="#e02626">15</text>
<text x="45.5" y="499.4" text-anchor="end" font-family='"Liberation Sans","DejaVu Sans",sans-serif' font-size="7.2" font-weight="bold" fill="#e02626">13</text>
<text x="45.5" y="513.8" text-anchor="end" font-family='"Liberation Sans","DejaVu Sans",sans-serif' font-size="7.2" font-weight="bold" fill="#e02626">11</text>
<text x="45.5" y="528.1" text-anchor="end" font-family='"Liberation Sans","DejaVu Sans",sans-serif' font-size="7.2" font-weight="bold" fill="#e02626">9</text>
<text x="45.5" y="542.6" text-anchor="end" font-family='"Liberation Sans","DejaVu Sans",sans-serif' font-size="7.2" font-weight="bold" fill="#e02626">7</text>
<text x="45.5" y="557.1" text-anchor="end" font-family='"Liberation Sans","DejaVu Sans",sans-serif' font-size="7.2" font-weight="bold" fill="#e02626">5</text>
<text x="45.5" y="572.6" text-anchor="end" font-family='"Liberation Sans","DejaVu Sans",sans-serif' font-size="7.2" font-weight="bold" fill="#e02626">3</text>
<text x="45.5" y="587.1" text-anchor="end" font-family='"Liberation Sans","DejaVu Sans",sans-serif' font-size="7.2" font-weight="bold" fill="#e02626">1</text>
<text x="45.5" y="591.19" text-anchor="middle" font-family='"Liberation Sans","DejaVu Sans",sans-serif' font-size="7.2" font-weight="bold" fill="#e02626">1</text>
<text x="61.3" y="590.91" text-anchor="middle" font-family='"Liberation Sans","DejaVu Sans",sans-serif' font-size="7.2" font-weight="bold" fill="#e02626">3</text>
<text x="76.3" y="590.64" text-anchor="middle" font-family='"Liberation Sans","DejaVu Sans",sans-serif' font-size="7.2" font-weight="bold" fill="#e02626">5</text>
<text x="90.8" y="590.38" text-anchor="middle" font-family='"Liberation Sans","DejaVu Sans",sans-serif' font-size="7.2" font-weight="bold" fill="#e02626">7</text>
<text x="105.8" y="590.11" text-anchor="middle" font-family='"Liberation Sans","DejaVu Sans",sans-serif' font-size="7.2" font-weight="bold" fill="#e02626">9</text>
<text x="120.3" y="589.84" text-anchor="middle" font-family='"Liberation Sans","DejaVu Sans",sans-serif' font-size="7.2" font-weight="bold" fill="#e02626">11</text>
<text x="134.8" y="589.58" text-anchor="middle" font-family='"Liberation Sans","DejaVu Sans",sans-serif' font-size="7.2" font-weight="bold" fill="#e02626">13</text>
<text x="149.2" y="589.32" text-anchor="middle" font-family='"Liberation Sans","DejaVu Sans",sans-serif' font-size="7.2" font-weight="bold" fill="#e02626">15</text>
<text x="163.7" y="589.06" text-anchor="middle" font-family='"Liberation Sans","DejaVu Sans",sans-serif' font-size="7.2" font-weight="bold" fill="#e02626">17</text>
<text x="177.8" y="588.81" text-anchor="middle" font-family='"Liberation Sans","DejaVu Sans",sans-serif' font-size="7.2" font-weight="bold" fill="#e02626">19</text>
<text x="191.4" y="588.56" text-anchor="middle" font-family='"Liberation Sans","DejaVu Sans",sans-serif' font-size="7.2" font-weight="bold" fill="#e02626">21</text>
<line x1="127.5" y1="496.5" x2="119" y2="508.5" stroke="#c9d84a" stroke-width="0.9"/>
<text x="127" y="496" font-family='"Liberation Serif","DejaVu Serif",serif' font-size="10.6" fill="#c6d648" textLength="56" lengthAdjust="spacingAndGlyphs">Signal source</text>
<rect x="211.8" y="438" width="44" height="30.8" fill="url(#diodeBg)"/>
<path d="M211.8 451.5 Q226 449.5 232 451.4 L236 451.6 Q246 450 255.8 452.5 V455.4 Q244 453.6 236 455.2 L231 455.2 Q222 454 211.8 455.6Z" fill="#eceef0" opacity="0.85"/>
<ellipse cx="234" cy="452.4" rx="4.4" ry="3.6" fill="#0c0c0d"/><ellipse cx="233" cy="451" rx="1.3" ry="0.8" fill="#c0c2c4"/>
<line x1="234" y1="456" x2="234" y2="470" stroke="#e02626" stroke-width="0.9" stroke-dasharray="1.6 0.8"/><polygon points="234,473.5 232,469 236,469" fill="#e02626"/>
<text x="234.2" y="480.6" text-anchor="middle" font-family='"Liberation Sans","DejaVu Sans",sans-serif' font-size="7.4" fill="#e02626" textLength="43.5" lengthAdjust="spacingAndGlyphs">Varistor diode</text>
<circle cx="225.5" cy="557" r="3" fill="#fff" stroke="#111" stroke-width="1"/><circle cx="225.5" cy="557" r="1" fill="#111"/>
<path d="M225.2 554 V537 M228.5 557 H246" stroke="#111" stroke-width="1.1" fill="none"/>
<path d="M222 540.5 L225.2 535.2 L228.4 540.5 M243.2 553.8 L248.4 557 L243.2 560.2" stroke="#111" stroke-width="1.1" fill="none"/>
<text x="222.4" y="532.3" font-family='"Liberation Serif","DejaVu Serif",serif' font-size="10.5" font-style="italic" fill="#111">z</text>
<text x="250" y="560.2" font-family='"Liberation Serif","DejaVu Serif",serif' font-size="10.5" font-style="italic" fill="#111">x</text>
<text x="215.2" y="565" font-family='"Liberation Serif","DejaVu Serif",serif' font-size="10.5" font-style="italic" fill="#111">y</text>
<text x="8" y="406.8" font-family='"Liberation Serif","DejaVu Serif",serif' font-size="15" font-style="italic" fill="#111" textLength="17" lengthAdjust="spacingAndGlyphs">(f)</text>
</g>
<g id="pgh">
<path d="M345.8 403.6 V485.2 M301.7 444.4 H390" stroke="#c4c4c4" stroke-width="0.8" fill="none"/>
<ellipse cx="345.8" cy="444.4" rx="10.4" ry="25.3" fill="none" stroke="#e08a22" stroke-width="1.5"/>
<rect x="301.7" y="403.6" width="88.3" height="81.6" fill="none" stroke="#8a8a8a" stroke-width="0.8" stroke-dasharray="1.4 0.9"/>
<text x="299.3" y="488.2" text-anchor="end" font-family='"Liberation Serif","DejaVu Serif",serif' font-size="9" font-weight="bold" fill="#2a2a2a">−3</text>
<text x="300.95" y="494.6" text-anchor="middle" font-family='"Liberation Serif","DejaVu Serif",serif' font-size="9" font-weight="bold" fill="#2a2a2a">−3</text>
<text x="299.3" y="474.6" text-anchor="end" font-family='"Liberation Serif","DejaVu Serif",serif' font-size="9" font-weight="bold" fill="#2a2a2a">−2</text>
<text x="315.5" y="494.6" text-anchor="middle" font-family='"Liberation Serif","DejaVu Serif",serif' font-size="9" font-weight="bold" fill="#2a2a2a">−2</text>
<text x="299.3" y="461" text-anchor="end" font-family='"Liberation Serif","DejaVu Serif",serif' font-size="9" font-weight="bold" fill="#2a2a2a">−1</text>
<text x="330.05" y="494.6" text-anchor="middle" font-family='"Liberation Serif","DejaVu Serif",serif' font-size="9" font-weight="bold" fill="#2a2a2a">−1</text>
<text x="299.3" y="447.4" text-anchor="end" font-family='"Liberation Serif","DejaVu Serif",serif' font-size="9" font-weight="bold" fill="#2a2a2a">0</text>
<text x="345.8" y="494.6" text-anchor="middle" font-family='"Liberation Serif","DejaVu Serif",serif' font-size="9" font-weight="bold" fill="#2a2a2a">0</text>
<text x="299.3" y="433.8" text-anchor="end" font-family='"Liberation Serif","DejaVu Serif",serif' font-size="9" font-weight="bold" fill="#2a2a2a">1</text>
<text x="360.35" y="494.6" text-anchor="middle" font-family='"Liberation Serif","DejaVu Serif",serif' font-size="9" font-weight="bold" fill="#2a2a2a">1</text>
<text x="299.3" y="420.2" text-anchor="end" font-family='"Liberation Serif","DejaVu Serif",serif' font-size="9" font-weight="bold" fill="#2a2a2a">2</text>
<text x="374.9" y="494.6" text-anchor="middle" font-family='"Liberation Serif","DejaVu Serif",serif' font-size="9" font-weight="bold" fill="#2a2a2a">2</text>
<text x="299.3" y="406.6" text-anchor="end" font-family='"Liberation Serif","DejaVu Serif",serif' font-size="9" font-weight="bold" fill="#2a2a2a">3</text>
<text x="389.45" y="494.6" text-anchor="middle" font-family='"Liberation Serif","DejaVu Serif",serif' font-size="9" font-weight="bold" fill="#2a2a2a">3</text>
<text transform="translate(285.8 445.4) rotate(-90)" text-anchor="middle" font-family='"Liberation Serif","DejaVu Serif",serif' font-size="13" font-style="italic" fill="#1a1a1a">k<tspan font-size="7.5" dy="2.4">z</tspan><tspan dy="-2.4" font-style="normal"> / </tspan>k<tspan font-size="7.5" dy="2.4" font-style="normal">0</tspan></text>
<text x="353.5" y="481.2" font-family='"Liberation Sans","DejaVu Sans",sans-serif' font-size="14" font-weight="bold" fill="#c8203c" textLength="32.5" lengthAdjust="spacingAndGlyphs">U=1V</text>
<text x="265.6" y="407" font-family='"Liberation Serif","DejaVu Serif",serif' font-size="15" font-style="italic" fill="#111" textLength="17.6">(g)</text>
<path d="M345.8 502 V584.2 M301.7 543.1 H390" stroke="#c4c4c4" stroke-width="0.8" fill="none"/>
<path d="M302.15 512.27 L303.61 512.64 L305.06 513 L306.51 513.35 L307.97 513.69 L309.43 514.02 L310.88 514.34 L312.34 514.65 L313.79 514.96 L315.25 515.25 L316.7 515.53 L318.16 515.8 L319.61 516.06 L321.06 516.31 L322.52 516.54 L323.98 516.76 L325.43 516.97 L326.88 517.17 L328.34 517.35 L329.8 517.52 L331.25 517.68 L332.71 517.82 L334.16 517.95 L335.62 518.07 L337.07 518.16 L338.53 518.25 L339.98 518.32 L341.44 518.37 L342.89 518.41 L344.35 518.43 L345.8 518.44 L347.25 518.43 L348.71 518.41 L350.17 518.37 L351.62 518.32 L353.07 518.25 L354.53 518.16 L355.99 518.07 L357.44 517.95 L358.9 517.82 L360.35 517.68 L361.81 517.52 L363.26 517.35 L364.72 517.17 L366.17 516.97 L367.62 516.76 L369.08 516.54 L370.54 516.31 L371.99 516.06 L373.44 515.8 L374.9 515.53 L376.36 515.25 L377.81 514.96 L379.27 514.65 L380.72 514.34 L382.18 514.02 L383.63 513.69 L385.09 513.35 L386.54 513 L388 512.64 L389.45 512.27" fill="none" stroke="#2a5aa8" stroke-width="1.6"/><path d="M302.15 573.93 L303.61 573.56 L305.06 573.2 L306.51 572.85 L307.97 572.51 L309.43 572.18 L310.88 571.86 L312.34 571.55 L313.79 571.24 L315.25 570.95 L316.7 570.67 L318.16 570.4 L319.61 570.14 L321.06 569.89 L322.52 569.66 L323.98 569.44 L325.43 569.23 L326.88 569.03 L328.34 568.85 L329.8 568.68 L331.25 568.52 L332.71 568.38 L334.16 568.25 L335.62 568.13 L337.07 568.04 L338.53 567.95 L339.98 567.88 L341.44 567.83 L342.89 567.79 L344.35 567.77 L345.8 567.76 L347.25 567.77 L348.71 567.79 L350.17 567.83 L351.62 567.88 L353.07 567.95 L354.53 568.04 L355.99 568.13 L357.44 568.25 L358.9 568.38 L360.35 568.52 L361.81 568.68 L363.26 568.85 L364.72 569.03 L366.17 569.23 L367.62 569.44 L369.08 569.66 L370.54 569.89 L371.99 570.14 L373.44 570.4 L374.9 570.67 L376.36 570.95 L377.81 571.24 L379.27 571.55 L380.72 571.86 L382.18 572.18 L383.63 572.51 L385.09 572.85 L386.54 573.2 L388 573.56 L389.45 573.93" fill="none" stroke="#2a5aa8" stroke-width="1.6"/>
<rect x="301.7" y="502" width="88.3" height="82.2" fill="none" stroke="#8a8a8a" stroke-width="0.8" stroke-dasharray="1.4 0.9"/>
<text x="299.3" y="587.2" text-anchor="end" font-family='"Liberation Serif","DejaVu Serif",serif' font-size="9" font-weight="bold" fill="#2a2a2a">−3</text>
<text x="300.95" y="593.6" text-anchor="middle" font-family='"Liberation Serif","DejaVu Serif",serif' font-size="9" font-weight="bold" fill="#2a2a2a">−3</text>
<text x="299.3" y="573.5" text-anchor="end" font-family='"Liberation Serif","DejaVu Serif",serif' font-size="9" font-weight="bold" fill="#2a2a2a">−2</text>
<text x="315.5" y="593.6" text-anchor="middle" font-family='"Liberation Serif","DejaVu Serif",serif' font-size="9" font-weight="bold" fill="#2a2a2a">−2</text>
<text x="299.3" y="559.8" text-anchor="end" font-family='"Liberation Serif","DejaVu Serif",serif' font-size="9" font-weight="bold" fill="#2a2a2a">−1</text>
<text x="330.05" y="593.6" text-anchor="middle" font-family='"Liberation Serif","DejaVu Serif",serif' font-size="9" font-weight="bold" fill="#2a2a2a">−1</text>
<text x="299.3" y="546.1" text-anchor="end" font-family='"Liberation Serif","DejaVu Serif",serif' font-size="9" font-weight="bold" fill="#2a2a2a">0</text>
<text x="345.8" y="593.6" text-anchor="middle" font-family='"Liberation Serif","DejaVu Serif",serif' font-size="9" font-weight="bold" fill="#2a2a2a">0</text>
<text x="299.3" y="532.4" text-anchor="end" font-family='"Liberation Serif","DejaVu Serif",serif' font-size="9" font-weight="bold" fill="#2a2a2a">1</text>
<text x="360.35" y="593.6" text-anchor="middle" font-family='"Liberation Serif","DejaVu Serif",serif' font-size="9" font-weight="bold" fill="#2a2a2a">1</text>
<text x="299.3" y="518.7" text-anchor="end" font-family='"Liberation Serif","DejaVu Serif",serif' font-size="9" font-weight="bold" fill="#2a2a2a">2</text>
<text x="374.9" y="593.6" text-anchor="middle" font-family='"Liberation Serif","DejaVu Serif",serif' font-size="9" font-weight="bold" fill="#2a2a2a">2</text>
<text x="299.3" y="505" text-anchor="end" font-family='"Liberation Serif","DejaVu Serif",serif' font-size="9" font-weight="bold" fill="#2a2a2a">3</text>
<text x="389.45" y="593.6" text-anchor="middle" font-family='"Liberation Serif","DejaVu Serif",serif' font-size="9" font-weight="bold" fill="#2a2a2a">3</text>
<text transform="translate(285.8 544.1) rotate(-90)" text-anchor="middle" font-family='"Liberation Serif","DejaVu Serif",serif' font-size="13" font-style="italic" fill="#1a1a1a">k<tspan font-size="7.5" dy="2.4">z</tspan><tspan dy="-2.4" font-style="normal"> / </tspan>k<tspan font-size="7.5" dy="2.4" font-style="normal">0</tspan></text>
<text x="347.2" y="564" font-family='"Liberation Sans","DejaVu Sans",sans-serif' font-size="14" font-weight="bold" fill="#c8203c" textLength="39" lengthAdjust="spacingAndGlyphs">U=20V</text>
<text x="265.6" y="505.4" font-family='"Liberation Serif","DejaVu Serif",serif' font-size="15" font-style="italic" fill="#111" textLength="17.6">(h)</text>
<text x="345.8" y="605" text-anchor="middle" font-family='"Liberation Serif","DejaVu Serif",serif' font-size="13" font-style="italic" fill="#1a1a1a">k<tspan font-size="7.5" dy="2.4">x</tspan><tspan dy="-2.4" font-style="normal"> / </tspan>k<tspan font-size="7.5" dy="2.4" font-style="normal">0</tspan></text>
<rect x="412.7" y="404.7" width="82.6" height="85" fill="url(#gIm)"/>
<g clip-path="url(#clG)">
<ellipse cx="455.5" cy="446" rx="2" ry="6" fill="#e2683a" filter="url(#gb1)" opacity="0.8"/>
<rect x="412.7" y="404.7" width="82.6" height="85" fill="url(#dots)"/>
</g>
<circle cx="456" cy="444.6" r="26.3" fill="none" stroke="#fdfdf2" stroke-width="1.5" stroke-dasharray="0.2 3.13" stroke-linecap="round"/>
<rect x="412.7" y="502" width="82.6" height="83" fill="#80c07c"/>
<g clip-path="url(#clH)">
<ellipse cx="401.36" cy="478.24" rx="3.64" ry="9.66" fill="#3a7cc8" filter="url(#gb16)" opacity="0.9"/>
<ellipse cx="411.42" cy="476.74" rx="2.8" ry="8" fill="#d0cc4c" filter="url(#gb16)" opacity="0.73"/>
<ellipse cx="411.64" cy="500.17" rx="2.98" ry="9.26" fill="#3a7cc8" filter="url(#gb16)" opacity="0.82"/>
<ellipse cx="421.62" cy="499.77" rx="2.8" ry="8" fill="#d0cc4c" filter="url(#gb16)" opacity="0.61"/>
<ellipse cx="402.95" cy="521.86" rx="3.42" ry="10.04" fill="#3a7cc8" filter="url(#gb16)" opacity="0.83"/>
<ellipse cx="410.28" cy="520.11" rx="2.8" ry="8" fill="#d0cc4c" filter="url(#gb16)" opacity="0.61"/>
<ellipse cx="410.32" cy="539.97" rx="2.92" ry="9.66" fill="#3a7cc8" filter="url(#gb16)" opacity="0.89"/>
<ellipse cx="421.68" cy="541.08" rx="2.8" ry="8" fill="#d0cc4c" filter="url(#gb16)" opacity="0.76"/>
<ellipse cx="401.5" cy="562.65" rx="3.27" ry="9.2" fill="#3a7cc8" filter="url(#gb16)" opacity="1"/>
<ellipse cx="412.24" cy="563.36" rx="2.8" ry="8" fill="#d0cc4c" filter="url(#gb16)" opacity="0.78"/>
<ellipse cx="410.7" cy="581.92" rx="3.13" ry="8.68" fill="#3a7cc8" filter="url(#gb16)" opacity="0.95"/>
<ellipse cx="420.8" cy="584.39" rx="2.8" ry="8" fill="#d0cc4c" filter="url(#gb16)" opacity="0.7"/>
<ellipse cx="402.87" cy="605.39" rx="2.9" ry="9.02" fill="#3a7cc8" filter="url(#gb16)" opacity="0.98"/>
<ellipse cx="411.19" cy="605.92" rx="2.8" ry="8" fill="#d0cc4c" filter="url(#gb16)" opacity="0.7"/>
<ellipse cx="409.97" cy="625.52" rx="3.52" ry="9.17" fill="#3a7cc8" filter="url(#gb16)" opacity="0.82"/>
<ellipse cx="420.67" cy="626.86" rx="2.8" ry="8" fill="#d0cc4c" filter="url(#gb16)" opacity="0.79"/>
<ellipse cx="400.35" cy="644.99" rx="2.98" ry="8.65" fill="#3a7cc8" filter="url(#gb16)" opacity="0.96"/>
<ellipse cx="410.61" cy="646.24" rx="2.8" ry="8" fill="#d0cc4c" filter="url(#gb16)" opacity="0.71"/>
<ellipse cx="410.32" cy="667.93" rx="3" ry="10.11" fill="#3a7cc8" filter="url(#gb16)" opacity="0.82"/>
<ellipse cx="420.84" cy="665.85" rx="2.8" ry="8" fill="#d0cc4c" filter="url(#gb16)" opacity="0.67"/>
<ellipse cx="422.41" cy="479.21" rx="3.14" ry="10.71" fill="#3a7cc8" filter="url(#gb16)" opacity="0.84"/>
<ellipse cx="430.54" cy="479.42" rx="2.8" ry="8" fill="#d0cc4c" filter="url(#gb16)" opacity="0.76"/>
<ellipse cx="429.55" cy="500.96" rx="3.07" ry="9.15" fill="#3a7cc8" filter="url(#gb16)" opacity="0.95"/>
<ellipse cx="440.16" cy="498.19" rx="2.8" ry="8" fill="#d0cc4c" filter="url(#gb16)" opacity="0.62"/>
<ellipse cx="419.77" cy="520.33" rx="3.09" ry="10" fill="#3a7cc8" filter="url(#gb16)" opacity="0.87"/>
<ellipse cx="430.66" cy="521.84" rx="2.8" ry="8" fill="#d0cc4c" filter="url(#gb16)" opacity="0.72"/>
<ellipse cx="430.97" cy="542.47" rx="3.05" ry="8.89" fill="#3a7cc8" filter="url(#gb16)" opacity="0.98"/>
<ellipse cx="441.14" cy="540" rx="2.8" ry="8" fill="#d0cc4c" filter="url(#gb16)" opacity="0.65"/>
<ellipse cx="421.72" cy="563.76" rx="3.06" ry="10.88" fill="#3a7cc8" filter="url(#gb16)" opacity="0.98"/>
<ellipse cx="430.96" cy="561.69" rx="2.8" ry="8" fill="#d0cc4c" filter="url(#gb16)" opacity="0.63"/>
<ellipse cx="429.37" cy="584.85" rx="3.09" ry="10.26" fill="#3a7cc8" filter="url(#gb16)" opacity="0.85"/>
<ellipse cx="441.15" cy="583.39" rx="2.8" ry="8" fill="#d0cc4c" filter="url(#gb16)" opacity="0.67"/>
<ellipse cx="420.03" cy="604.88" rx="2.96" ry="9.07" fill="#3a7cc8" filter="url(#gb16)" opacity="0.91"/>
<ellipse cx="431.45" cy="604.46" rx="2.8" ry="8" fill="#d0cc4c" filter="url(#gb16)" opacity="0.67"/>
<ellipse cx="432" cy="623.82" rx="2.91" ry="9.17" fill="#3a7cc8" filter="url(#gb16)" opacity="0.89"/>
<ellipse cx="439.62" cy="623.71" rx="2.8" ry="8" fill="#d0cc4c" filter="url(#gb16)" opacity="0.69"/>
<ellipse cx="421.22" cy="644.53" rx="3.19" ry="10.73" fill="#3a7cc8" filter="url(#gb16)" opacity="1"/>
<ellipse cx="431.06" cy="646.76" rx="2.8" ry="8" fill="#d0cc4c" filter="url(#gb16)" opacity="0.75"/>
<ellipse cx="429.67" cy="665.14" rx="2.91" ry="10.78" fill="#3a7cc8" filter="url(#gb16)" opacity="0.94"/>
<ellipse cx="441.43" cy="665.09" rx="2.8" ry="8" fill="#d0cc4c" filter="url(#gb16)" opacity="0.76"/>
<ellipse cx="440.45" cy="478.92" rx="3.16" ry="11" fill="#3a7cc8" filter="url(#gb16)" opacity="0.82"/>
<ellipse cx="450.39" cy="499.95" rx="3.62" ry="10.34" fill="#3a7cc8" filter="url(#gb16)" opacity="0.94"/>
<ellipse cx="441.38" cy="521.66" rx="3.18" ry="10.21" fill="#3a7cc8" filter="url(#gb16)" opacity="0.98"/>
<ellipse cx="441.61" cy="561.67" rx="3.53" ry="10.66" fill="#3a7cc8" filter="url(#gb16)" opacity="0.91"/>
<ellipse cx="450.62" cy="582.53" rx="3.37" ry="10.02" fill="#3a7cc8" filter="url(#gb16)" opacity="0.82"/>
<ellipse cx="440.92" cy="605.97" rx="3.6" ry="10.32" fill="#3a7cc8" filter="url(#gb16)" opacity="0.88"/>
<ellipse cx="450.96" cy="625.32" rx="3.25" ry="10.6" fill="#3a7cc8" filter="url(#gb16)" opacity="0.82"/>
<ellipse cx="441.25" cy="644.12" rx="3.38" ry="9.7" fill="#3a7cc8" filter="url(#gb16)" opacity="0.85"/>
<ellipse cx="450.85" cy="666.99" rx="3.39" ry="10.8" fill="#3a7cc8" filter="url(#gb16)" opacity="0.85"/>
<ellipse cx="458.53" cy="477.2" rx="3.44" ry="9.01" fill="#3a7cc8" filter="url(#gb16)" opacity="0.83"/>
<ellipse cx="470.56" cy="478.64" rx="2.8" ry="8" fill="#d0cc4c" filter="url(#gb16)" opacity="0.71"/>
<ellipse cx="470.93" cy="498.31" rx="3.43" ry="9" fill="#3a7cc8" filter="url(#gb16)" opacity="0.89"/>
<ellipse cx="480.11" cy="500.66" rx="2.8" ry="8" fill="#d0cc4c" filter="url(#gb16)" opacity="0.82"/>
<ellipse cx="469.4" cy="541.33" rx="3.15" ry="8.84" fill="#3a7cc8" filter="url(#gb16)" opacity="0.9"/>
<ellipse cx="480.17" cy="542.39" rx="2.8" ry="8" fill="#d0cc4c" filter="url(#gb16)" opacity="0.78"/>
<ellipse cx="471.1" cy="582.11" rx="3.04" ry="9.63" fill="#3a7cc8" filter="url(#gb16)" opacity="0.86"/>
<ellipse cx="478.93" cy="582.66" rx="2.8" ry="8" fill="#d0cc4c" filter="url(#gb16)" opacity="0.76"/>
<ellipse cx="459.98" cy="603.26" rx="3.57" ry="10.96" fill="#3a7cc8" filter="url(#gb16)" opacity="0.89"/>
<ellipse cx="468.9" cy="602.13" rx="2.8" ry="8" fill="#d0cc4c" filter="url(#gb16)" opacity="0.82"/>
<ellipse cx="468.37" cy="625.83" rx="3.36" ry="9.27" fill="#3a7cc8" filter="url(#gb16)" opacity="0.96"/>
<ellipse cx="478.54" cy="623.54" rx="2.8" ry="8" fill="#d0cc4c" filter="url(#gb16)" opacity="0.71"/>
<ellipse cx="458.57" cy="647.32" rx="3.09" ry="8.85" fill="#3a7cc8" filter="url(#gb16)" opacity="0.81"/>
<ellipse cx="470.01" cy="645.79" rx="2.8" ry="8" fill="#d0cc4c" filter="url(#gb16)" opacity="0.76"/>
<ellipse cx="470.22" cy="668.23" rx="3.67" ry="10.21" fill="#3a7cc8" filter="url(#gb16)" opacity="0.84"/>
<ellipse cx="479.45" cy="665.71" rx="2.8" ry="8" fill="#d0cc4c" filter="url(#gb16)" opacity="0.6"/>
<ellipse cx="479.42" cy="478.86" rx="3.04" ry="9.18" fill="#3a7cc8" filter="url(#gb16)" opacity="0.61"/>
<ellipse cx="489.64" cy="478.08" rx="2.8" ry="8" fill="#d0cc4c" filter="url(#gb16)" opacity="0.53"/>
<ellipse cx="490.02" cy="498.57" rx="3.53" ry="10.77" fill="#3a7cc8" filter="url(#gb16)" opacity="0.57"/>
<ellipse cx="499.87" cy="499.89" rx="2.8" ry="8" fill="#d0cc4c" filter="url(#gb16)" opacity="0.44"/>
<ellipse cx="479.36" cy="520.5" rx="3.63" ry="9.44" fill="#3a7cc8" filter="url(#gb16)" opacity="0.64"/>
<ellipse cx="490.01" cy="521.19" rx="2.8" ry="8" fill="#d0cc4c" filter="url(#gb16)" opacity="0.59"/>
<ellipse cx="489.14" cy="541.61" rx="3.06" ry="10.3" fill="#3a7cc8" filter="url(#gb16)" opacity="0.67"/>
<ellipse cx="499.28" cy="541.87" rx="2.8" ry="8" fill="#d0cc4c" filter="url(#gb16)" opacity="0.46"/>
<ellipse cx="480.7" cy="563.92" rx="3.68" ry="9.84" fill="#3a7cc8" filter="url(#gb16)" opacity="0.67"/>
<ellipse cx="488.89" cy="563.64" rx="2.8" ry="8" fill="#d0cc4c" filter="url(#gb16)" opacity="0.57"/>
<ellipse cx="488.8" cy="581.33" rx="3.25" ry="9.88" fill="#3a7cc8" filter="url(#gb16)" opacity="0.67"/>
<ellipse cx="498.97" cy="581.11" rx="2.8" ry="8" fill="#d0cc4c" filter="url(#gb16)" opacity="0.56"/>
<ellipse cx="478.19" cy="605.2" rx="3.04" ry="9.34" fill="#3a7cc8" filter="url(#gb16)" opacity="0.67"/>
<ellipse cx="488.53" cy="602.59" rx="2.8" ry="8" fill="#d0cc4c" filter="url(#gb16)" opacity="0.51"/>
<ellipse cx="489.92" cy="626.36" rx="3.45" ry="10.86" fill="#3a7cc8" filter="url(#gb16)" opacity="0.63"/>
<ellipse cx="499.9" cy="623.34" rx="2.8" ry="8" fill="#d0cc4c" filter="url(#gb16)" opacity="0.46"/>
<ellipse cx="479.58" cy="645.16" rx="3.48" ry="10.1" fill="#3a7cc8" filter="url(#gb16)" opacity="0.63"/>
<ellipse cx="489.94" cy="646.24" rx="2.8" ry="8" fill="#d0cc4c" filter="url(#gb16)" opacity="0.47"/>
<ellipse cx="488.89" cy="668.38" rx="3.62" ry="9.02" fill="#3a7cc8" filter="url(#gb16)" opacity="0.68"/>
<ellipse cx="499.94" cy="667.1" rx="2.8" ry="8" fill="#d0cc4c" filter="url(#gb16)" opacity="0.52"/>
<ellipse cx="498.1" cy="478.14" rx="3.3" ry="10.01" fill="#3a7cc8" filter="url(#gb16)" opacity="0.56"/>
<ellipse cx="509.69" cy="478.06" rx="2.8" ry="8" fill="#d0cc4c" filter="url(#gb16)" opacity="0.49"/>
<ellipse cx="509.65" cy="499.25" rx="3.29" ry="10.23" fill="#3a7cc8" filter="url(#gb16)" opacity="0.57"/>
<ellipse cx="518.58" cy="498.66" rx="2.8" ry="8" fill="#d0cc4c" filter="url(#gb16)" opacity="0.59"/>
<ellipse cx="500.27" cy="519.08" rx="3.28" ry="8.82" fill="#3a7cc8" filter="url(#gb16)" opacity="0.62"/>
<ellipse cx="509.38" cy="521.6" rx="2.8" ry="8" fill="#d0cc4c" filter="url(#gb16)" opacity="0.5"/>
<ellipse cx="508.2" cy="539.77" rx="3.39" ry="10.81" fill="#3a7cc8" filter="url(#gb16)" opacity="0.58"/>
<ellipse cx="519.06" cy="539.09" rx="2.8" ry="8" fill="#d0cc4c" filter="url(#gb16)" opacity="0.45"/>
<ellipse cx="498.18" cy="562.75" rx="3.16" ry="9.39" fill="#3a7cc8" filter="url(#gb16)" opacity="0.65"/>
<ellipse cx="507.96" cy="562.92" rx="2.8" ry="8" fill="#d0cc4c" filter="url(#gb16)" opacity="0.44"/>
<ellipse cx="508.78" cy="582" rx="3.06" ry="9.83" fill="#3a7cc8" filter="url(#gb16)" opacity="0.62"/>
<ellipse cx="518.25" cy="582.65" rx="2.8" ry="8" fill="#d0cc4c" filter="url(#gb16)" opacity="0.51"/>
<ellipse cx="497.98" cy="602.82" rx="3.41" ry="10.1" fill="#3a7cc8" filter="url(#gb16)" opacity="0.63"/>
<ellipse cx="509.45" cy="604.45" rx="2.8" ry="8" fill="#d0cc4c" filter="url(#gb16)" opacity="0.57"/>
<ellipse cx="507.95" cy="625.96" rx="3.55" ry="10.76" fill="#3a7cc8" filter="url(#gb16)" opacity="0.6"/>
<ellipse cx="518.13" cy="626.69" rx="2.8" ry="8" fill="#d0cc4c" filter="url(#gb16)" opacity="0.46"/>
<ellipse cx="500.5" cy="647.55" rx="3.01" ry="9.1" fill="#3a7cc8" filter="url(#gb16)" opacity="0.66"/>
<ellipse cx="508.27" cy="644.39" rx="2.8" ry="8" fill="#d0cc4c" filter="url(#gb16)" opacity="0.57"/>
<ellipse cx="508.51" cy="668.16" rx="3" ry="9.51" fill="#3a7cc8" filter="url(#gb16)" opacity="0.66"/>
<ellipse cx="517.54" cy="665.8" rx="2.8" ry="8" fill="#d0cc4c" filter="url(#gb16)" opacity="0.54"/>
<ellipse cx="519.73" cy="479.87" rx="2.99" ry="9.76" fill="#3a7cc8" filter="url(#gb16)" opacity="0.67"/>
<ellipse cx="528.26" cy="478.74" rx="2.8" ry="8" fill="#d0cc4c" filter="url(#gb16)" opacity="0.45"/>
<ellipse cx="526.96" cy="497.42" rx="2.93" ry="9.88" fill="#3a7cc8" filter="url(#gb16)" opacity="0.63"/>
<ellipse cx="538.14" cy="497.59" rx="2.8" ry="8" fill="#d0cc4c" filter="url(#gb16)" opacity="0.45"/>
<ellipse cx="517.61" cy="521.36" rx="3.69" ry="10.82" fill="#3a7cc8" filter="url(#gb16)" opacity="0.57"/>
<ellipse cx="527.37" cy="521.81" rx="2.8" ry="8" fill="#d0cc4c" filter="url(#gb16)" opacity="0.5"/>
<ellipse cx="529.04" cy="540.31" rx="3.27" ry="9.79" fill="#3a7cc8" filter="url(#gb16)" opacity="0.62"/>
<ellipse cx="538.2" cy="539.05" rx="2.8" ry="8" fill="#d0cc4c" filter="url(#gb16)" opacity="0.54"/>
<ellipse cx="519.53" cy="560.73" rx="3.26" ry="10.35" fill="#3a7cc8" filter="url(#gb16)" opacity="0.62"/>
<ellipse cx="527.64" cy="560.66" rx="2.8" ry="8" fill="#d0cc4c" filter="url(#gb16)" opacity="0.51"/>
<ellipse cx="526.8" cy="584.57" rx="3.54" ry="10.26" fill="#3a7cc8" filter="url(#gb16)" opacity="0.68"/>
<ellipse cx="538.26" cy="582.62" rx="2.8" ry="8" fill="#d0cc4c" filter="url(#gb16)" opacity="0.52"/>
<ellipse cx="518.51" cy="605.93" rx="3.54" ry="9.15" fill="#3a7cc8" filter="url(#gb16)" opacity="0.69"/>
<ellipse cx="528.74" cy="605.11" rx="2.8" ry="8" fill="#d0cc4c" filter="url(#gb16)" opacity="0.56"/>
<ellipse cx="527.97" cy="626.59" rx="3.6" ry="10.24" fill="#3a7cc8" filter="url(#gb16)" opacity="0.67"/>
<ellipse cx="538.53" cy="624.62" rx="2.8" ry="8" fill="#d0cc4c" filter="url(#gb16)" opacity="0.55"/>
<ellipse cx="517.21" cy="645.37" rx="3.28" ry="8.53" fill="#3a7cc8" filter="url(#gb16)" opacity="0.61"/>
<ellipse cx="528.53" cy="646.5" rx="2.8" ry="8" fill="#d0cc4c" filter="url(#gb16)" opacity="0.46"/>
<ellipse cx="529.58" cy="667.66" rx="3.17" ry="10.15" fill="#3a7cc8" filter="url(#gb16)" opacity="0.64"/>
<ellipse cx="538.07" cy="666.56" rx="2.8" ry="8" fill="#d0cc4c" filter="url(#gb16)" opacity="0.59"/>
<ellipse cx="455.2" cy="507" rx="4.5" ry="9" fill="#3a62c0" filter="url(#gb2)" opacity="0.95"/>
<ellipse cx="450" cy="502" rx="3" ry="4" fill="#4a3aa8" filter="url(#gb1)" opacity="0.8"/><ellipse cx="460.5" cy="502" rx="3" ry="4" fill="#4a3aa8" filter="url(#gb1)" opacity="0.8"/>
<ellipse cx="455.5" cy="576" rx="4" ry="9" fill="#3a6cc0" filter="url(#gb2)" opacity="0.9"/><ellipse cx="457" cy="584" rx="6" ry="3" fill="#3a5cc0" filter="url(#gb2)" opacity="0.9"/>
<ellipse cx="455.5" cy="543" rx="3.8" ry="20" fill="#dcc048" filter="url(#gb2)"/>
<ellipse cx="455.5" cy="542" rx="1.9" ry="14" fill="#ea8236" filter="url(#gb1)"/>
<ellipse cx="455.2" cy="535" rx="1.3" ry="4.5" fill="#dc4a2c" filter="url(#gb1)"/>
<rect x="412.7" y="502" width="82.6" height="83" fill="url(#dots)" opacity="0.6"/>
</g>
<path d="M442.7 502 L468 585 M468.8 502 L443.6 585" stroke="#fdfdf0" stroke-width="1.5" stroke-dasharray="0.6 2.5" stroke-linecap="round" fill="none"/>
<rect x="509" y="416.2" width="4" height="64.2" fill="url(#par)"/>
<text x="512" y="414" text-anchor="middle" font-family='"Liberation Serif","DejaVu Serif",serif' font-size="5.6" font-weight="bold" font-style="italic" fill="#3a3030">+Max</text>
<text x="512" y="486.6" text-anchor="middle" font-family='"Liberation Serif","DejaVu Serif",serif' font-size="5.6" font-weight="bold" font-style="italic" fill="#3a3030">−Max</text>
<rect x="509" y="512.3" width="4" height="63.5" fill="url(#par)"/>
<text x="512" y="510.1" text-anchor="middle" font-family='"Liberation Serif","DejaVu Serif",serif' font-size="5.6" font-weight="bold" font-style="italic" fill="#3a3030">+Max</text>
<text x="512" y="582" text-anchor="middle" font-family='"Liberation Serif","DejaVu Serif",serif' font-size="5.6" font-weight="bold" font-style="italic" fill="#3a3030">−Max</text>
</g>
</svg></body></html>
